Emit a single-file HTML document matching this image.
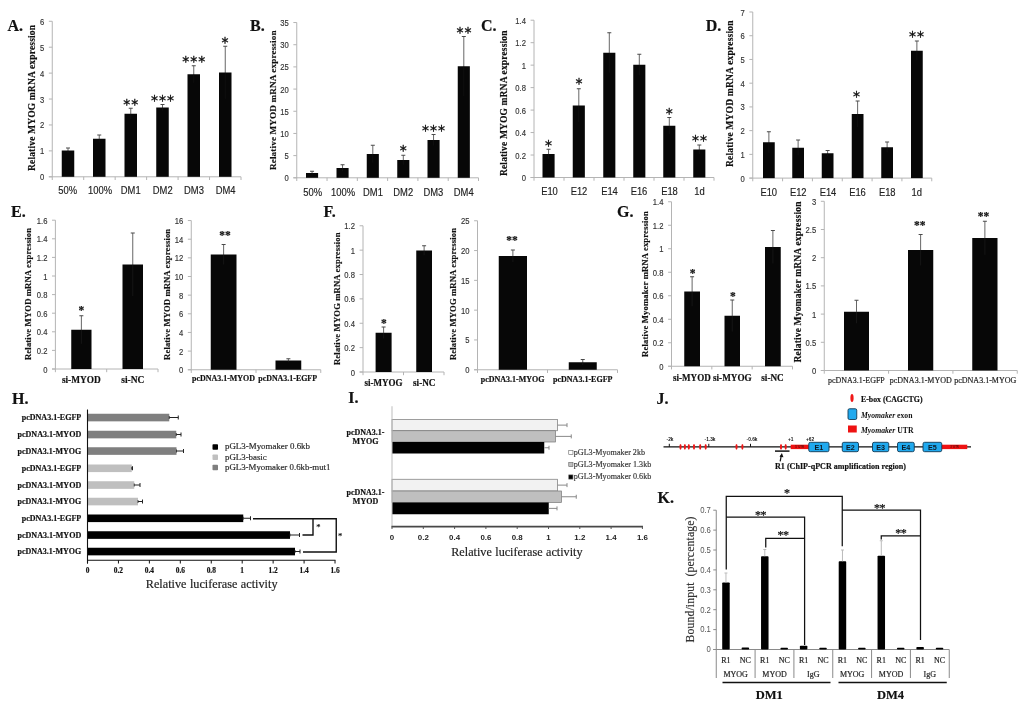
<!DOCTYPE html>
<html lang="en"><head><meta charset="utf-8"><title>Figure</title>
<style>
html,body{margin:0;padding:0;background:#fff;}
body{width:1024px;height:707px;overflow:hidden;}
svg{display:block;filter:blur(0.4px);}
</style></head><body>
<svg width="1024" height="707" viewBox="0 0 1024 707">
<rect x="0" y="0" width="1024" height="707" fill="#ffffff"/>
<text x="7.50" y="30.50" font-family="'Liberation Serif', serif" font-size="16" font-weight="bold" text-anchor="start" fill="#111" stroke="#111" stroke-width="0.18" >A.</text>
<line x1="52.25" y1="21.28" x2="52.25" y2="180.00" stroke="#b4b4b4" stroke-width="1" />
<line x1="48.85" y1="176.80" x2="52.25" y2="176.80" stroke="#b4b4b4" stroke-width="1" />
<text x="44.25" y="180.31" font-family="'Liberation Sans', sans-serif" font-size="9" font-weight="normal" text-anchor="end" fill="#333" stroke="#333" stroke-width="0.15" textLength="4.25" lengthAdjust="spacingAndGlyphs" >0</text>
<line x1="48.85" y1="150.88" x2="52.25" y2="150.88" stroke="#b4b4b4" stroke-width="1" />
<text x="44.25" y="154.39" font-family="'Liberation Sans', sans-serif" font-size="9" font-weight="normal" text-anchor="end" fill="#333" stroke="#333" stroke-width="0.15" textLength="4.25" lengthAdjust="spacingAndGlyphs" >1</text>
<line x1="48.85" y1="124.96" x2="52.25" y2="124.96" stroke="#b4b4b4" stroke-width="1" />
<text x="44.25" y="128.47" font-family="'Liberation Sans', sans-serif" font-size="9" font-weight="normal" text-anchor="end" fill="#333" stroke="#333" stroke-width="0.15" textLength="4.25" lengthAdjust="spacingAndGlyphs" >2</text>
<line x1="48.85" y1="99.04" x2="52.25" y2="99.04" stroke="#b4b4b4" stroke-width="1" />
<text x="44.25" y="102.55" font-family="'Liberation Sans', sans-serif" font-size="9" font-weight="normal" text-anchor="end" fill="#333" stroke="#333" stroke-width="0.15" textLength="4.25" lengthAdjust="spacingAndGlyphs" >3</text>
<line x1="48.85" y1="73.12" x2="52.25" y2="73.12" stroke="#b4b4b4" stroke-width="1" />
<text x="44.25" y="76.63" font-family="'Liberation Sans', sans-serif" font-size="9" font-weight="normal" text-anchor="end" fill="#333" stroke="#333" stroke-width="0.15" textLength="4.25" lengthAdjust="spacingAndGlyphs" >4</text>
<line x1="48.85" y1="47.20" x2="52.25" y2="47.20" stroke="#b4b4b4" stroke-width="1" />
<text x="44.25" y="50.71" font-family="'Liberation Sans', sans-serif" font-size="9" font-weight="normal" text-anchor="end" fill="#333" stroke="#333" stroke-width="0.15" textLength="4.25" lengthAdjust="spacingAndGlyphs" >5</text>
<line x1="48.85" y1="21.28" x2="52.25" y2="21.28" stroke="#b4b4b4" stroke-width="1" />
<text x="44.25" y="24.79" font-family="'Liberation Sans', sans-serif" font-size="9" font-weight="normal" text-anchor="end" fill="#333" stroke="#333" stroke-width="0.15" textLength="4.25" lengthAdjust="spacingAndGlyphs" >6</text>
<line x1="48.85" y1="176.80" x2="241.00" y2="176.80" stroke="#b4b4b4" stroke-width="1" />
<line x1="83.71" y1="176.80" x2="83.71" y2="180.00" stroke="#b4b4b4" stroke-width="1" />
<line x1="115.17" y1="176.80" x2="115.17" y2="180.00" stroke="#b4b4b4" stroke-width="1" />
<line x1="146.62" y1="176.80" x2="146.62" y2="180.00" stroke="#b4b4b4" stroke-width="1" />
<line x1="178.08" y1="176.80" x2="178.08" y2="180.00" stroke="#b4b4b4" stroke-width="1" />
<line x1="209.54" y1="176.80" x2="209.54" y2="180.00" stroke="#b4b4b4" stroke-width="1" />
<line x1="241.00" y1="176.80" x2="241.00" y2="180.00" stroke="#b4b4b4" stroke-width="1" />
<rect x="61.75" y="150.50" width="12.50" height="26.30" fill="#070707" />
<line x1="68.00" y1="148.00" x2="68.00" y2="150.50" stroke="#4a4a4a" stroke-width="0.85" />
<line x1="66.00" y1="148.00" x2="70.00" y2="148.00" stroke="#4a4a4a" stroke-width="1" />
<line x1="68.00" y1="150.50" x2="68.00" y2="153.00" stroke="#0f0f0f" stroke-width="1" />
<rect x="93.00" y="138.75" width="12.50" height="38.05" fill="#070707" />
<line x1="99.25" y1="135.00" x2="99.25" y2="138.75" stroke="#4a4a4a" stroke-width="0.85" />
<line x1="97.25" y1="135.00" x2="101.25" y2="135.00" stroke="#4a4a4a" stroke-width="1" />
<line x1="99.25" y1="138.75" x2="99.25" y2="142.50" stroke="#0f0f0f" stroke-width="1" />
<rect x="124.50" y="113.75" width="12.50" height="63.05" fill="#070707" />
<line x1="130.75" y1="108.25" x2="130.75" y2="113.75" stroke="#4a4a4a" stroke-width="0.85" />
<line x1="128.75" y1="108.25" x2="132.75" y2="108.25" stroke="#4a4a4a" stroke-width="1" />
<line x1="130.75" y1="113.75" x2="130.75" y2="119.25" stroke="#0f0f0f" stroke-width="1" />
<rect x="156.25" y="107.50" width="12.50" height="69.30" fill="#070707" />
<line x1="162.50" y1="104.50" x2="162.50" y2="107.50" stroke="#4a4a4a" stroke-width="0.85" />
<line x1="160.50" y1="104.50" x2="164.50" y2="104.50" stroke="#4a4a4a" stroke-width="1" />
<line x1="162.50" y1="107.50" x2="162.50" y2="110.50" stroke="#0f0f0f" stroke-width="1" />
<rect x="187.50" y="74.25" width="12.50" height="102.55" fill="#070707" />
<line x1="193.75" y1="65.75" x2="193.75" y2="74.25" stroke="#4a4a4a" stroke-width="0.85" />
<line x1="191.75" y1="65.75" x2="195.75" y2="65.75" stroke="#4a4a4a" stroke-width="1" />
<line x1="193.75" y1="74.25" x2="193.75" y2="82.75" stroke="#0f0f0f" stroke-width="1" />
<rect x="219.00" y="72.50" width="12.50" height="104.30" fill="#070707" />
<line x1="225.25" y1="46.25" x2="225.25" y2="72.50" stroke="#4a4a4a" stroke-width="0.85" />
<line x1="223.25" y1="46.25" x2="227.25" y2="46.25" stroke="#4a4a4a" stroke-width="1" />
<line x1="225.25" y1="72.50" x2="225.25" y2="98.75" stroke="#0f0f0f" stroke-width="1" />
<text x="67.75" y="193.75" font-family="'Liberation Sans', sans-serif" font-size="10" font-weight="normal" text-anchor="middle" fill="#222" stroke="#222" stroke-width="0.15" textLength="18.81" lengthAdjust="spacingAndGlyphs" >50%</text>
<text x="100.00" y="193.75" font-family="'Liberation Sans', sans-serif" font-size="10" font-weight="normal" text-anchor="middle" fill="#222" stroke="#222" stroke-width="0.15" textLength="24.04" lengthAdjust="spacingAndGlyphs" >100%</text>
<text x="130.75" y="193.75" font-family="'Liberation Sans', sans-serif" font-size="10" font-weight="normal" text-anchor="middle" fill="#222" stroke="#222" stroke-width="0.15" textLength="19.84" lengthAdjust="spacingAndGlyphs" >DM1</text>
<text x="162.75" y="193.75" font-family="'Liberation Sans', sans-serif" font-size="10" font-weight="normal" text-anchor="middle" fill="#222" stroke="#222" stroke-width="0.15" textLength="19.84" lengthAdjust="spacingAndGlyphs" >DM2</text>
<text x="194.00" y="193.75" font-family="'Liberation Sans', sans-serif" font-size="10" font-weight="normal" text-anchor="middle" fill="#222" stroke="#222" stroke-width="0.15" textLength="19.84" lengthAdjust="spacingAndGlyphs" >DM3</text>
<text x="225.60" y="193.75" font-family="'Liberation Sans', sans-serif" font-size="10" font-weight="normal" text-anchor="middle" fill="#222" stroke="#222" stroke-width="0.15" textLength="19.84" lengthAdjust="spacingAndGlyphs" >DM4</text>
<text transform="translate(32.90,98.00) rotate(-90)" x="0" y="2.19" font-family="'Liberation Serif', serif" font-size="9.5" font-weight="bold" text-anchor="middle" fill="#111" stroke="#111" stroke-width="0.15" textLength="146.00" lengthAdjust="spacing">Relative MYOG mRNA expression</text>
<text x="131.30" y="108.58" font-family="'DejaVu Sans', sans-serif" font-size="14" font-weight="normal" text-anchor="middle" fill="#0c0c0c" stroke="#0c0c0c" stroke-width="0.3" letter-spacing="1.1">**</text>
<text x="163.05" y="105.33" font-family="'DejaVu Sans', sans-serif" font-size="14" font-weight="normal" text-anchor="middle" fill="#0c0c0c" stroke="#0c0c0c" stroke-width="0.3" letter-spacing="1.1">***</text>
<text x="194.30" y="65.58" font-family="'DejaVu Sans', sans-serif" font-size="14" font-weight="normal" text-anchor="middle" fill="#0c0c0c" stroke="#0c0c0c" stroke-width="0.3" letter-spacing="1.1">***</text>
<text x="225.55" y="46.58" font-family="'DejaVu Sans', sans-serif" font-size="14" font-weight="normal" text-anchor="middle" fill="#0c0c0c" stroke="#0c0c0c" stroke-width="0.3" letter-spacing="1.1">*</text>
<text x="250.00" y="30.50" font-family="'Liberation Serif', serif" font-size="16" font-weight="bold" text-anchor="start" fill="#111" stroke="#111" stroke-width="0.18" >B.</text>
<line x1="296.75" y1="22.54" x2="296.75" y2="181.00" stroke="#b4b4b4" stroke-width="1" />
<line x1="293.35" y1="177.80" x2="296.75" y2="177.80" stroke="#b4b4b4" stroke-width="1" />
<text x="288.75" y="181.31" font-family="'Liberation Sans', sans-serif" font-size="9" font-weight="normal" text-anchor="end" fill="#333" stroke="#333" stroke-width="0.15" textLength="4.25" lengthAdjust="spacingAndGlyphs" >0</text>
<line x1="293.35" y1="155.62" x2="296.75" y2="155.62" stroke="#b4b4b4" stroke-width="1" />
<text x="288.75" y="159.13" font-family="'Liberation Sans', sans-serif" font-size="9" font-weight="normal" text-anchor="end" fill="#333" stroke="#333" stroke-width="0.15" textLength="4.25" lengthAdjust="spacingAndGlyphs" >5</text>
<line x1="293.35" y1="133.44" x2="296.75" y2="133.44" stroke="#b4b4b4" stroke-width="1" />
<text x="288.75" y="136.95" font-family="'Liberation Sans', sans-serif" font-size="9" font-weight="normal" text-anchor="end" fill="#333" stroke="#333" stroke-width="0.15" textLength="8.51" lengthAdjust="spacingAndGlyphs" >10</text>
<line x1="293.35" y1="111.26" x2="296.75" y2="111.26" stroke="#b4b4b4" stroke-width="1" />
<text x="288.75" y="114.77" font-family="'Liberation Sans', sans-serif" font-size="9" font-weight="normal" text-anchor="end" fill="#333" stroke="#333" stroke-width="0.15" textLength="8.51" lengthAdjust="spacingAndGlyphs" >15</text>
<line x1="293.35" y1="89.08" x2="296.75" y2="89.08" stroke="#b4b4b4" stroke-width="1" />
<text x="288.75" y="92.59" font-family="'Liberation Sans', sans-serif" font-size="9" font-weight="normal" text-anchor="end" fill="#333" stroke="#333" stroke-width="0.15" textLength="8.51" lengthAdjust="spacingAndGlyphs" >20</text>
<line x1="293.35" y1="66.90" x2="296.75" y2="66.90" stroke="#b4b4b4" stroke-width="1" />
<text x="288.75" y="70.41" font-family="'Liberation Sans', sans-serif" font-size="9" font-weight="normal" text-anchor="end" fill="#333" stroke="#333" stroke-width="0.15" textLength="8.51" lengthAdjust="spacingAndGlyphs" >25</text>
<line x1="293.35" y1="44.72" x2="296.75" y2="44.72" stroke="#b4b4b4" stroke-width="1" />
<text x="288.75" y="48.23" font-family="'Liberation Sans', sans-serif" font-size="9" font-weight="normal" text-anchor="end" fill="#333" stroke="#333" stroke-width="0.15" textLength="8.51" lengthAdjust="spacingAndGlyphs" >30</text>
<line x1="293.35" y1="22.54" x2="296.75" y2="22.54" stroke="#b4b4b4" stroke-width="1" />
<text x="288.75" y="26.05" font-family="'Liberation Sans', sans-serif" font-size="9" font-weight="normal" text-anchor="end" fill="#333" stroke="#333" stroke-width="0.15" textLength="8.51" lengthAdjust="spacingAndGlyphs" >35</text>
<line x1="293.35" y1="177.80" x2="478.50" y2="177.80" stroke="#b4b4b4" stroke-width="1" />
<line x1="327.04" y1="177.80" x2="327.04" y2="181.00" stroke="#b4b4b4" stroke-width="1" />
<line x1="357.33" y1="177.80" x2="357.33" y2="181.00" stroke="#b4b4b4" stroke-width="1" />
<line x1="387.62" y1="177.80" x2="387.62" y2="181.00" stroke="#b4b4b4" stroke-width="1" />
<line x1="417.92" y1="177.80" x2="417.92" y2="181.00" stroke="#b4b4b4" stroke-width="1" />
<line x1="448.21" y1="177.80" x2="448.21" y2="181.00" stroke="#b4b4b4" stroke-width="1" />
<line x1="478.50" y1="177.80" x2="478.50" y2="181.00" stroke="#b4b4b4" stroke-width="1" />
<rect x="306.00" y="173.00" width="12.10" height="4.80" fill="#070707" />
<line x1="312.05" y1="171.25" x2="312.05" y2="173.00" stroke="#4a4a4a" stroke-width="0.85" />
<line x1="310.05" y1="171.25" x2="314.05" y2="171.25" stroke="#4a4a4a" stroke-width="1" />
<line x1="312.05" y1="173.00" x2="312.05" y2="174.75" stroke="#0f0f0f" stroke-width="1" />
<rect x="336.50" y="168.00" width="12.10" height="9.80" fill="#070707" />
<line x1="342.55" y1="164.75" x2="342.55" y2="168.00" stroke="#4a4a4a" stroke-width="0.85" />
<line x1="340.55" y1="164.75" x2="344.55" y2="164.75" stroke="#4a4a4a" stroke-width="1" />
<line x1="342.55" y1="168.00" x2="342.55" y2="171.25" stroke="#0f0f0f" stroke-width="1" />
<rect x="366.75" y="154.00" width="12.10" height="23.80" fill="#070707" />
<line x1="372.80" y1="145.25" x2="372.80" y2="154.00" stroke="#4a4a4a" stroke-width="0.85" />
<line x1="370.80" y1="145.25" x2="374.80" y2="145.25" stroke="#4a4a4a" stroke-width="1" />
<line x1="372.80" y1="154.00" x2="372.80" y2="162.75" stroke="#0f0f0f" stroke-width="1" />
<rect x="397.25" y="160.00" width="12.10" height="17.80" fill="#070707" />
<line x1="403.30" y1="155.25" x2="403.30" y2="160.00" stroke="#4a4a4a" stroke-width="0.85" />
<line x1="401.30" y1="155.25" x2="405.30" y2="155.25" stroke="#4a4a4a" stroke-width="1" />
<line x1="403.30" y1="160.00" x2="403.30" y2="164.75" stroke="#0f0f0f" stroke-width="1" />
<rect x="427.50" y="140.00" width="12.10" height="37.80" fill="#070707" />
<line x1="433.55" y1="134.50" x2="433.55" y2="140.00" stroke="#4a4a4a" stroke-width="0.85" />
<line x1="431.55" y1="134.50" x2="435.55" y2="134.50" stroke="#4a4a4a" stroke-width="1" />
<line x1="433.55" y1="140.00" x2="433.55" y2="145.50" stroke="#0f0f0f" stroke-width="1" />
<rect x="457.75" y="66.25" width="12.10" height="111.55" fill="#070707" />
<line x1="463.80" y1="36.50" x2="463.80" y2="66.25" stroke="#4a4a4a" stroke-width="0.85" />
<line x1="461.80" y1="36.50" x2="465.80" y2="36.50" stroke="#4a4a4a" stroke-width="1" />
<line x1="463.80" y1="66.25" x2="463.80" y2="96.00" stroke="#0f0f0f" stroke-width="1" />
<text x="312.75" y="195.50" font-family="'Liberation Sans', sans-serif" font-size="10" font-weight="normal" text-anchor="middle" fill="#222" stroke="#222" stroke-width="0.15" textLength="18.81" lengthAdjust="spacingAndGlyphs" >50%</text>
<text x="343.00" y="195.50" font-family="'Liberation Sans', sans-serif" font-size="10" font-weight="normal" text-anchor="middle" fill="#222" stroke="#222" stroke-width="0.15" textLength="24.04" lengthAdjust="spacingAndGlyphs" >100%</text>
<text x="373.00" y="195.50" font-family="'Liberation Sans', sans-serif" font-size="10" font-weight="normal" text-anchor="middle" fill="#222" stroke="#222" stroke-width="0.15" textLength="19.84" lengthAdjust="spacingAndGlyphs" >DM1</text>
<text x="403.25" y="195.50" font-family="'Liberation Sans', sans-serif" font-size="10" font-weight="normal" text-anchor="middle" fill="#222" stroke="#222" stroke-width="0.15" textLength="19.84" lengthAdjust="spacingAndGlyphs" >DM2</text>
<text x="433.40" y="195.50" font-family="'Liberation Sans', sans-serif" font-size="10" font-weight="normal" text-anchor="middle" fill="#222" stroke="#222" stroke-width="0.15" textLength="19.84" lengthAdjust="spacingAndGlyphs" >DM3</text>
<text x="463.75" y="195.50" font-family="'Liberation Sans', sans-serif" font-size="10" font-weight="normal" text-anchor="middle" fill="#222" stroke="#222" stroke-width="0.15" textLength="19.84" lengthAdjust="spacingAndGlyphs" >DM4</text>
<text transform="translate(273.90,100.25) rotate(-90)" x="0" y="2.10" font-family="'Liberation Serif', serif" font-size="9.12" font-weight="bold" text-anchor="middle" fill="#111" stroke="#111" stroke-width="0.15" textLength="139.50" lengthAdjust="spacing">Relative MYOD mRNA expression</text>
<text x="403.80" y="155.33" font-family="'DejaVu Sans', sans-serif" font-size="14" font-weight="normal" text-anchor="middle" fill="#0c0c0c" stroke="#0c0c0c" stroke-width="0.3" letter-spacing="1.1">*</text>
<text x="434.05" y="135.33" font-family="'DejaVu Sans', sans-serif" font-size="14" font-weight="normal" text-anchor="middle" fill="#0c0c0c" stroke="#0c0c0c" stroke-width="0.3" letter-spacing="1.1">***</text>
<text x="464.55" y="37.08" font-family="'DejaVu Sans', sans-serif" font-size="14" font-weight="normal" text-anchor="middle" fill="#0c0c0c" stroke="#0c0c0c" stroke-width="0.3" letter-spacing="1.1">**</text>
<text x="481.00" y="30.50" font-family="'Liberation Serif', serif" font-size="16" font-weight="bold" text-anchor="start" fill="#111" stroke="#111" stroke-width="0.18" >C.</text>
<line x1="534.00" y1="20.21" x2="534.00" y2="180.70" stroke="#b4b4b4" stroke-width="1" />
<line x1="530.60" y1="177.50" x2="534.00" y2="177.50" stroke="#b4b4b4" stroke-width="1" />
<text x="526.00" y="181.01" font-family="'Liberation Sans', sans-serif" font-size="9" font-weight="normal" text-anchor="end" fill="#333" stroke="#333" stroke-width="0.15" textLength="4.25" lengthAdjust="spacingAndGlyphs" >0</text>
<line x1="530.60" y1="155.03" x2="534.00" y2="155.03" stroke="#b4b4b4" stroke-width="1" />
<text x="526.00" y="158.54" font-family="'Liberation Sans', sans-serif" font-size="9" font-weight="normal" text-anchor="end" fill="#333" stroke="#333" stroke-width="0.15" textLength="10.63" lengthAdjust="spacingAndGlyphs" >0.2</text>
<line x1="530.60" y1="132.56" x2="534.00" y2="132.56" stroke="#b4b4b4" stroke-width="1" />
<text x="526.00" y="136.07" font-family="'Liberation Sans', sans-serif" font-size="9" font-weight="normal" text-anchor="end" fill="#333" stroke="#333" stroke-width="0.15" textLength="10.63" lengthAdjust="spacingAndGlyphs" >0.4</text>
<line x1="530.60" y1="110.09" x2="534.00" y2="110.09" stroke="#b4b4b4" stroke-width="1" />
<text x="526.00" y="113.60" font-family="'Liberation Sans', sans-serif" font-size="9" font-weight="normal" text-anchor="end" fill="#333" stroke="#333" stroke-width="0.15" textLength="10.63" lengthAdjust="spacingAndGlyphs" >0.6</text>
<line x1="530.60" y1="87.62" x2="534.00" y2="87.62" stroke="#b4b4b4" stroke-width="1" />
<text x="526.00" y="91.13" font-family="'Liberation Sans', sans-serif" font-size="9" font-weight="normal" text-anchor="end" fill="#333" stroke="#333" stroke-width="0.15" textLength="10.63" lengthAdjust="spacingAndGlyphs" >0.8</text>
<line x1="530.60" y1="65.15" x2="534.00" y2="65.15" stroke="#b4b4b4" stroke-width="1" />
<text x="526.00" y="68.66" font-family="'Liberation Sans', sans-serif" font-size="9" font-weight="normal" text-anchor="end" fill="#333" stroke="#333" stroke-width="0.15" textLength="4.25" lengthAdjust="spacingAndGlyphs" >1</text>
<line x1="530.60" y1="42.68" x2="534.00" y2="42.68" stroke="#b4b4b4" stroke-width="1" />
<text x="526.00" y="46.19" font-family="'Liberation Sans', sans-serif" font-size="9" font-weight="normal" text-anchor="end" fill="#333" stroke="#333" stroke-width="0.15" textLength="10.63" lengthAdjust="spacingAndGlyphs" >1.2</text>
<line x1="530.60" y1="20.21" x2="534.00" y2="20.21" stroke="#b4b4b4" stroke-width="1" />
<text x="526.00" y="23.72" font-family="'Liberation Sans', sans-serif" font-size="9" font-weight="normal" text-anchor="end" fill="#333" stroke="#333" stroke-width="0.15" textLength="10.63" lengthAdjust="spacingAndGlyphs" >1.4</text>
<line x1="530.60" y1="177.50" x2="714.00" y2="177.50" stroke="#b4b4b4" stroke-width="1" />
<line x1="564.00" y1="177.50" x2="564.00" y2="180.70" stroke="#b4b4b4" stroke-width="1" />
<line x1="594.00" y1="177.50" x2="594.00" y2="180.70" stroke="#b4b4b4" stroke-width="1" />
<line x1="624.00" y1="177.50" x2="624.00" y2="180.70" stroke="#b4b4b4" stroke-width="1" />
<line x1="654.00" y1="177.50" x2="654.00" y2="180.70" stroke="#b4b4b4" stroke-width="1" />
<line x1="684.00" y1="177.50" x2="684.00" y2="180.70" stroke="#b4b4b4" stroke-width="1" />
<line x1="714.00" y1="177.50" x2="714.00" y2="180.70" stroke="#b4b4b4" stroke-width="1" />
<rect x="542.50" y="154.00" width="12.10" height="23.50" fill="#070707" />
<line x1="548.55" y1="149.25" x2="548.55" y2="154.00" stroke="#4a4a4a" stroke-width="0.85" />
<line x1="546.55" y1="149.25" x2="550.55" y2="149.25" stroke="#4a4a4a" stroke-width="1" />
<line x1="548.55" y1="154.00" x2="548.55" y2="158.75" stroke="#0f0f0f" stroke-width="1" />
<rect x="572.75" y="105.50" width="12.10" height="72.00" fill="#070707" />
<line x1="578.80" y1="88.75" x2="578.80" y2="105.50" stroke="#4a4a4a" stroke-width="0.85" />
<line x1="576.80" y1="88.75" x2="580.80" y2="88.75" stroke="#4a4a4a" stroke-width="1" />
<line x1="578.80" y1="105.50" x2="578.80" y2="122.25" stroke="#0f0f0f" stroke-width="1" />
<rect x="603.25" y="52.75" width="12.10" height="124.75" fill="#070707" />
<line x1="609.30" y1="32.75" x2="609.30" y2="52.75" stroke="#4a4a4a" stroke-width="0.85" />
<line x1="607.30" y1="32.75" x2="611.30" y2="32.75" stroke="#4a4a4a" stroke-width="1" />
<line x1="609.30" y1="52.75" x2="609.30" y2="72.75" stroke="#0f0f0f" stroke-width="1" />
<rect x="633.25" y="64.75" width="12.10" height="112.75" fill="#070707" />
<line x1="639.30" y1="54.25" x2="639.30" y2="64.75" stroke="#4a4a4a" stroke-width="0.85" />
<line x1="637.30" y1="54.25" x2="641.30" y2="54.25" stroke="#4a4a4a" stroke-width="1" />
<line x1="639.30" y1="64.75" x2="639.30" y2="75.25" stroke="#0f0f0f" stroke-width="1" />
<rect x="663.25" y="125.75" width="12.10" height="51.75" fill="#070707" />
<line x1="669.30" y1="117.50" x2="669.30" y2="125.75" stroke="#4a4a4a" stroke-width="0.85" />
<line x1="667.30" y1="117.50" x2="671.30" y2="117.50" stroke="#4a4a4a" stroke-width="1" />
<line x1="669.30" y1="125.75" x2="669.30" y2="134.00" stroke="#0f0f0f" stroke-width="1" />
<rect x="693.25" y="149.50" width="12.10" height="28.00" fill="#070707" />
<line x1="699.30" y1="145.00" x2="699.30" y2="149.50" stroke="#4a4a4a" stroke-width="0.85" />
<line x1="697.30" y1="145.00" x2="701.30" y2="145.00" stroke="#4a4a4a" stroke-width="1" />
<line x1="699.30" y1="149.50" x2="699.30" y2="154.00" stroke="#0f0f0f" stroke-width="1" />
<text x="549.50" y="195.00" font-family="'Liberation Sans', sans-serif" font-size="10" font-weight="normal" text-anchor="middle" fill="#222" stroke="#222" stroke-width="0.15" textLength="16.72" lengthAdjust="spacingAndGlyphs" >E10</text>
<text x="579.00" y="195.00" font-family="'Liberation Sans', sans-serif" font-size="10" font-weight="normal" text-anchor="middle" fill="#222" stroke="#222" stroke-width="0.15" textLength="16.72" lengthAdjust="spacingAndGlyphs" >E12</text>
<text x="609.50" y="195.00" font-family="'Liberation Sans', sans-serif" font-size="10" font-weight="normal" text-anchor="middle" fill="#222" stroke="#222" stroke-width="0.15" textLength="16.72" lengthAdjust="spacingAndGlyphs" >E14</text>
<text x="639.00" y="195.00" font-family="'Liberation Sans', sans-serif" font-size="10" font-weight="normal" text-anchor="middle" fill="#222" stroke="#222" stroke-width="0.15" textLength="16.72" lengthAdjust="spacingAndGlyphs" >E16</text>
<text x="669.50" y="195.00" font-family="'Liberation Sans', sans-serif" font-size="10" font-weight="normal" text-anchor="middle" fill="#222" stroke="#222" stroke-width="0.15" textLength="16.72" lengthAdjust="spacingAndGlyphs" >E18</text>
<text x="699.50" y="195.00" font-family="'Liberation Sans', sans-serif" font-size="10" font-weight="normal" text-anchor="middle" fill="#222" stroke="#222" stroke-width="0.15" textLength="10.45" lengthAdjust="spacingAndGlyphs" >1d</text>
<text transform="translate(504.40,103.25) rotate(-90)" x="0" y="2.19" font-family="'Liberation Serif', serif" font-size="9.5" font-weight="bold" text-anchor="middle" fill="#111" stroke="#111" stroke-width="0.15" textLength="145.50" lengthAdjust="spacing">Relative MYOG mRNA expression</text>
<text x="549.05" y="149.58" font-family="'DejaVu Sans', sans-serif" font-size="14" font-weight="normal" text-anchor="middle" fill="#0c0c0c" stroke="#0c0c0c" stroke-width="0.3" letter-spacing="1.1">*</text>
<text x="579.55" y="88.33" font-family="'DejaVu Sans', sans-serif" font-size="14" font-weight="normal" text-anchor="middle" fill="#0c0c0c" stroke="#0c0c0c" stroke-width="0.3" letter-spacing="1.1">*</text>
<text x="669.80" y="117.83" font-family="'DejaVu Sans', sans-serif" font-size="14" font-weight="normal" text-anchor="middle" fill="#0c0c0c" stroke="#0c0c0c" stroke-width="0.3" letter-spacing="1.1">*</text>
<text x="700.05" y="145.33" font-family="'DejaVu Sans', sans-serif" font-size="14" font-weight="normal" text-anchor="middle" fill="#0c0c0c" stroke="#0c0c0c" stroke-width="0.3" letter-spacing="1.1">**</text>
<text x="705.75" y="30.50" font-family="'Liberation Serif', serif" font-size="16" font-weight="bold" text-anchor="start" fill="#111" stroke="#111" stroke-width="0.18" >D.</text>
<line x1="752.75" y1="11.99" x2="752.75" y2="181.30" stroke="#b4b4b4" stroke-width="1" />
<line x1="749.35" y1="178.10" x2="752.75" y2="178.10" stroke="#b4b4b4" stroke-width="1" />
<text x="744.75" y="181.61" font-family="'Liberation Sans', sans-serif" font-size="9" font-weight="normal" text-anchor="end" fill="#333" stroke="#333" stroke-width="0.15" textLength="4.25" lengthAdjust="spacingAndGlyphs" >0</text>
<line x1="749.35" y1="154.37" x2="752.75" y2="154.37" stroke="#b4b4b4" stroke-width="1" />
<text x="744.75" y="157.88" font-family="'Liberation Sans', sans-serif" font-size="9" font-weight="normal" text-anchor="end" fill="#333" stroke="#333" stroke-width="0.15" textLength="4.25" lengthAdjust="spacingAndGlyphs" >1</text>
<line x1="749.35" y1="130.64" x2="752.75" y2="130.64" stroke="#b4b4b4" stroke-width="1" />
<text x="744.75" y="134.15" font-family="'Liberation Sans', sans-serif" font-size="9" font-weight="normal" text-anchor="end" fill="#333" stroke="#333" stroke-width="0.15" textLength="4.25" lengthAdjust="spacingAndGlyphs" >2</text>
<line x1="749.35" y1="106.91" x2="752.75" y2="106.91" stroke="#b4b4b4" stroke-width="1" />
<text x="744.75" y="110.42" font-family="'Liberation Sans', sans-serif" font-size="9" font-weight="normal" text-anchor="end" fill="#333" stroke="#333" stroke-width="0.15" textLength="4.25" lengthAdjust="spacingAndGlyphs" >3</text>
<line x1="749.35" y1="83.18" x2="752.75" y2="83.18" stroke="#b4b4b4" stroke-width="1" />
<text x="744.75" y="86.69" font-family="'Liberation Sans', sans-serif" font-size="9" font-weight="normal" text-anchor="end" fill="#333" stroke="#333" stroke-width="0.15" textLength="4.25" lengthAdjust="spacingAndGlyphs" >4</text>
<line x1="749.35" y1="59.45" x2="752.75" y2="59.45" stroke="#b4b4b4" stroke-width="1" />
<text x="744.75" y="62.96" font-family="'Liberation Sans', sans-serif" font-size="9" font-weight="normal" text-anchor="end" fill="#333" stroke="#333" stroke-width="0.15" textLength="4.25" lengthAdjust="spacingAndGlyphs" >5</text>
<line x1="749.35" y1="35.72" x2="752.75" y2="35.72" stroke="#b4b4b4" stroke-width="1" />
<text x="744.75" y="39.23" font-family="'Liberation Sans', sans-serif" font-size="9" font-weight="normal" text-anchor="end" fill="#333" stroke="#333" stroke-width="0.15" textLength="4.25" lengthAdjust="spacingAndGlyphs" >6</text>
<line x1="749.35" y1="11.99" x2="752.75" y2="11.99" stroke="#b4b4b4" stroke-width="1" />
<text x="744.75" y="15.50" font-family="'Liberation Sans', sans-serif" font-size="9" font-weight="normal" text-anchor="end" fill="#333" stroke="#333" stroke-width="0.15" textLength="4.25" lengthAdjust="spacingAndGlyphs" >7</text>
<line x1="749.35" y1="178.10" x2="931.75" y2="178.10" stroke="#b4b4b4" stroke-width="1" />
<line x1="782.58" y1="178.10" x2="782.58" y2="181.30" stroke="#b4b4b4" stroke-width="1" />
<line x1="812.42" y1="178.10" x2="812.42" y2="181.30" stroke="#b4b4b4" stroke-width="1" />
<line x1="842.25" y1="178.10" x2="842.25" y2="181.30" stroke="#b4b4b4" stroke-width="1" />
<line x1="872.08" y1="178.10" x2="872.08" y2="181.30" stroke="#b4b4b4" stroke-width="1" />
<line x1="901.92" y1="178.10" x2="901.92" y2="181.30" stroke="#b4b4b4" stroke-width="1" />
<line x1="931.75" y1="178.10" x2="931.75" y2="181.30" stroke="#b4b4b4" stroke-width="1" />
<rect x="763.00" y="142.25" width="11.75" height="35.85" fill="#070707" />
<line x1="768.88" y1="131.75" x2="768.88" y2="142.25" stroke="#4a4a4a" stroke-width="0.85" />
<line x1="766.88" y1="131.75" x2="770.88" y2="131.75" stroke="#4a4a4a" stroke-width="1" />
<line x1="768.88" y1="142.25" x2="768.88" y2="152.75" stroke="#0f0f0f" stroke-width="1" />
<rect x="792.25" y="147.75" width="11.75" height="30.35" fill="#070707" />
<line x1="798.12" y1="140.00" x2="798.12" y2="147.75" stroke="#4a4a4a" stroke-width="0.85" />
<line x1="796.12" y1="140.00" x2="800.12" y2="140.00" stroke="#4a4a4a" stroke-width="1" />
<line x1="798.12" y1="147.75" x2="798.12" y2="155.50" stroke="#0f0f0f" stroke-width="1" />
<rect x="821.75" y="153.25" width="11.75" height="24.85" fill="#070707" />
<line x1="827.62" y1="150.50" x2="827.62" y2="153.25" stroke="#4a4a4a" stroke-width="0.85" />
<line x1="825.62" y1="150.50" x2="829.62" y2="150.50" stroke="#4a4a4a" stroke-width="1" />
<line x1="827.62" y1="153.25" x2="827.62" y2="156.00" stroke="#0f0f0f" stroke-width="1" />
<rect x="851.75" y="114.00" width="11.75" height="64.10" fill="#070707" />
<line x1="857.62" y1="101.00" x2="857.62" y2="114.00" stroke="#4a4a4a" stroke-width="0.85" />
<line x1="855.62" y1="101.00" x2="859.62" y2="101.00" stroke="#4a4a4a" stroke-width="1" />
<line x1="857.62" y1="114.00" x2="857.62" y2="127.00" stroke="#0f0f0f" stroke-width="1" />
<rect x="881.25" y="147.25" width="11.75" height="30.85" fill="#070707" />
<line x1="887.12" y1="142.00" x2="887.12" y2="147.25" stroke="#4a4a4a" stroke-width="0.85" />
<line x1="885.12" y1="142.00" x2="889.12" y2="142.00" stroke="#4a4a4a" stroke-width="1" />
<line x1="887.12" y1="147.25" x2="887.12" y2="152.50" stroke="#0f0f0f" stroke-width="1" />
<rect x="911.00" y="50.75" width="11.75" height="127.35" fill="#070707" />
<line x1="916.88" y1="41.00" x2="916.88" y2="50.75" stroke="#4a4a4a" stroke-width="0.85" />
<line x1="914.88" y1="41.00" x2="918.88" y2="41.00" stroke="#4a4a4a" stroke-width="1" />
<line x1="916.88" y1="50.75" x2="916.88" y2="60.50" stroke="#0f0f0f" stroke-width="1" />
<text x="768.75" y="195.50" font-family="'Liberation Sans', sans-serif" font-size="10" font-weight="normal" text-anchor="middle" fill="#222" stroke="#222" stroke-width="0.15" textLength="16.72" lengthAdjust="spacingAndGlyphs" >E10</text>
<text x="798.25" y="195.50" font-family="'Liberation Sans', sans-serif" font-size="10" font-weight="normal" text-anchor="middle" fill="#222" stroke="#222" stroke-width="0.15" textLength="16.72" lengthAdjust="spacingAndGlyphs" >E12</text>
<text x="828.00" y="195.50" font-family="'Liberation Sans', sans-serif" font-size="10" font-weight="normal" text-anchor="middle" fill="#222" stroke="#222" stroke-width="0.15" textLength="16.72" lengthAdjust="spacingAndGlyphs" >E14</text>
<text x="857.50" y="195.50" font-family="'Liberation Sans', sans-serif" font-size="10" font-weight="normal" text-anchor="middle" fill="#222" stroke="#222" stroke-width="0.15" textLength="16.72" lengthAdjust="spacingAndGlyphs" >E16</text>
<text x="887.25" y="195.50" font-family="'Liberation Sans', sans-serif" font-size="10" font-weight="normal" text-anchor="middle" fill="#222" stroke="#222" stroke-width="0.15" textLength="16.72" lengthAdjust="spacingAndGlyphs" >E18</text>
<text x="916.75" y="195.50" font-family="'Liberation Sans', sans-serif" font-size="10" font-weight="normal" text-anchor="middle" fill="#222" stroke="#222" stroke-width="0.15" textLength="10.45" lengthAdjust="spacingAndGlyphs" >1d</text>
<text transform="translate(731.15,93.75) rotate(-90)" x="0" y="2.19" font-family="'Liberation Serif', serif" font-size="9.5" font-weight="bold" text-anchor="middle" fill="#111" stroke="#111" stroke-width="0.15" textLength="146.50" lengthAdjust="spacing">Relative MYOD mRNA expression</text>
<text x="857.05" y="101.08" font-family="'DejaVu Sans', sans-serif" font-size="14" font-weight="normal" text-anchor="middle" fill="#0c0c0c" stroke="#0c0c0c" stroke-width="0.3" letter-spacing="1.1">*</text>
<text x="917.05" y="41.08" font-family="'DejaVu Sans', sans-serif" font-size="14" font-weight="normal" text-anchor="middle" fill="#0c0c0c" stroke="#0c0c0c" stroke-width="0.3" letter-spacing="1.1">**</text>
<text x="11.00" y="216.50" font-family="'Liberation Serif', serif" font-size="16" font-weight="bold" text-anchor="start" fill="#111" stroke="#111" stroke-width="0.18" >E.</text>
<line x1="55.40" y1="220.20" x2="55.40" y2="372.20" stroke="#b4b4b4" stroke-width="1" />
<line x1="52.00" y1="369.00" x2="55.40" y2="369.00" stroke="#b4b4b4" stroke-width="1" />
<text x="47.40" y="372.51" font-family="'Liberation Sans', sans-serif" font-size="9" font-weight="normal" text-anchor="end" fill="#333" stroke="#333" stroke-width="0.15" textLength="4.25" lengthAdjust="spacingAndGlyphs" >0</text>
<line x1="52.00" y1="350.40" x2="55.40" y2="350.40" stroke="#b4b4b4" stroke-width="1" />
<text x="47.40" y="353.91" font-family="'Liberation Sans', sans-serif" font-size="9" font-weight="normal" text-anchor="end" fill="#333" stroke="#333" stroke-width="0.15" textLength="10.63" lengthAdjust="spacingAndGlyphs" >0.2</text>
<line x1="52.00" y1="331.80" x2="55.40" y2="331.80" stroke="#b4b4b4" stroke-width="1" />
<text x="47.40" y="335.31" font-family="'Liberation Sans', sans-serif" font-size="9" font-weight="normal" text-anchor="end" fill="#333" stroke="#333" stroke-width="0.15" textLength="10.63" lengthAdjust="spacingAndGlyphs" >0.4</text>
<line x1="52.00" y1="313.20" x2="55.40" y2="313.20" stroke="#b4b4b4" stroke-width="1" />
<text x="47.40" y="316.71" font-family="'Liberation Sans', sans-serif" font-size="9" font-weight="normal" text-anchor="end" fill="#333" stroke="#333" stroke-width="0.15" textLength="10.63" lengthAdjust="spacingAndGlyphs" >0.6</text>
<line x1="52.00" y1="294.60" x2="55.40" y2="294.60" stroke="#b4b4b4" stroke-width="1" />
<text x="47.40" y="298.11" font-family="'Liberation Sans', sans-serif" font-size="9" font-weight="normal" text-anchor="end" fill="#333" stroke="#333" stroke-width="0.15" textLength="10.63" lengthAdjust="spacingAndGlyphs" >0.8</text>
<line x1="52.00" y1="276.00" x2="55.40" y2="276.00" stroke="#b4b4b4" stroke-width="1" />
<text x="47.40" y="279.51" font-family="'Liberation Sans', sans-serif" font-size="9" font-weight="normal" text-anchor="end" fill="#333" stroke="#333" stroke-width="0.15" textLength="4.25" lengthAdjust="spacingAndGlyphs" >1</text>
<line x1="52.00" y1="257.40" x2="55.40" y2="257.40" stroke="#b4b4b4" stroke-width="1" />
<text x="47.40" y="260.91" font-family="'Liberation Sans', sans-serif" font-size="9" font-weight="normal" text-anchor="end" fill="#333" stroke="#333" stroke-width="0.15" textLength="10.63" lengthAdjust="spacingAndGlyphs" >1.2</text>
<line x1="52.00" y1="238.80" x2="55.40" y2="238.80" stroke="#b4b4b4" stroke-width="1" />
<text x="47.40" y="242.31" font-family="'Liberation Sans', sans-serif" font-size="9" font-weight="normal" text-anchor="end" fill="#333" stroke="#333" stroke-width="0.15" textLength="10.63" lengthAdjust="spacingAndGlyphs" >1.4</text>
<line x1="52.00" y1="220.20" x2="55.40" y2="220.20" stroke="#b4b4b4" stroke-width="1" />
<text x="47.40" y="223.71" font-family="'Liberation Sans', sans-serif" font-size="9" font-weight="normal" text-anchor="end" fill="#333" stroke="#333" stroke-width="0.15" textLength="10.63" lengthAdjust="spacingAndGlyphs" >1.6</text>
<line x1="52.00" y1="369.00" x2="158.00" y2="369.00" stroke="#b4b4b4" stroke-width="1" />
<line x1="106.70" y1="369.00" x2="106.70" y2="372.20" stroke="#b4b4b4" stroke-width="1" />
<line x1="158.00" y1="369.00" x2="158.00" y2="372.20" stroke="#b4b4b4" stroke-width="1" />
<rect x="71.25" y="329.75" width="20.25" height="39.25" fill="#070707" />
<line x1="81.38" y1="315.75" x2="81.38" y2="329.75" stroke="#4a4a4a" stroke-width="0.85" />
<line x1="79.38" y1="315.75" x2="83.38" y2="315.75" stroke="#4a4a4a" stroke-width="1" />
<line x1="81.38" y1="329.75" x2="81.38" y2="343.75" stroke="#161616" stroke-width="1" />
<rect x="122.50" y="264.50" width="20.50" height="104.50" fill="#070707" />
<line x1="132.75" y1="233.00" x2="132.75" y2="264.50" stroke="#4a4a4a" stroke-width="0.85" />
<line x1="130.75" y1="233.00" x2="134.75" y2="233.00" stroke="#4a4a4a" stroke-width="1" />
<line x1="132.75" y1="264.50" x2="132.75" y2="296.00" stroke="#161616" stroke-width="1" />
<text x="81.25" y="383.00" font-family="'Liberation Serif', serif" font-size="9.4" font-weight="bold" text-anchor="middle" fill="#111" stroke="#111" stroke-width="0.18" textLength="38.75" lengthAdjust="spacingAndGlyphs" >si-MYOD</text>
<text x="132.75" y="383.00" font-family="'Liberation Serif', serif" font-size="9.4" font-weight="bold" text-anchor="middle" fill="#111" stroke="#111" stroke-width="0.18" textLength="23.00" lengthAdjust="spacingAndGlyphs" >si-NC</text>
<text transform="translate(29.15,294.00) rotate(-90)" x="0" y="1.99" font-family="'Liberation Serif', serif" font-size="8.64" font-weight="bold" text-anchor="middle" fill="#111" stroke="#111" stroke-width="0.15" textLength="132.00" lengthAdjust="spacing">Relative MYOD mRNA expression</text>
<text x="81.25" y="313.65" font-family="'Liberation Serif', serif" font-size="11.5" font-weight="bold" text-anchor="middle" fill="#111" stroke="#111" stroke-width="0.18" >*</text>
<line x1="191.25" y1="220.55" x2="191.25" y2="372.95" stroke="#b4b4b4" stroke-width="1" />
<line x1="187.85" y1="369.75" x2="191.25" y2="369.75" stroke="#b4b4b4" stroke-width="1" />
<text x="183.25" y="373.26" font-family="'Liberation Sans', sans-serif" font-size="9" font-weight="normal" text-anchor="end" fill="#333" stroke="#333" stroke-width="0.15" textLength="4.25" lengthAdjust="spacingAndGlyphs" >0</text>
<line x1="187.85" y1="351.10" x2="191.25" y2="351.10" stroke="#b4b4b4" stroke-width="1" />
<text x="183.25" y="354.61" font-family="'Liberation Sans', sans-serif" font-size="9" font-weight="normal" text-anchor="end" fill="#333" stroke="#333" stroke-width="0.15" textLength="4.25" lengthAdjust="spacingAndGlyphs" >2</text>
<line x1="187.85" y1="332.45" x2="191.25" y2="332.45" stroke="#b4b4b4" stroke-width="1" />
<text x="183.25" y="335.96" font-family="'Liberation Sans', sans-serif" font-size="9" font-weight="normal" text-anchor="end" fill="#333" stroke="#333" stroke-width="0.15" textLength="4.25" lengthAdjust="spacingAndGlyphs" >4</text>
<line x1="187.85" y1="313.80" x2="191.25" y2="313.80" stroke="#b4b4b4" stroke-width="1" />
<text x="183.25" y="317.31" font-family="'Liberation Sans', sans-serif" font-size="9" font-weight="normal" text-anchor="end" fill="#333" stroke="#333" stroke-width="0.15" textLength="4.25" lengthAdjust="spacingAndGlyphs" >6</text>
<line x1="187.85" y1="295.15" x2="191.25" y2="295.15" stroke="#b4b4b4" stroke-width="1" />
<text x="183.25" y="298.66" font-family="'Liberation Sans', sans-serif" font-size="9" font-weight="normal" text-anchor="end" fill="#333" stroke="#333" stroke-width="0.15" textLength="4.25" lengthAdjust="spacingAndGlyphs" >8</text>
<line x1="187.85" y1="276.50" x2="191.25" y2="276.50" stroke="#b4b4b4" stroke-width="1" />
<text x="183.25" y="280.01" font-family="'Liberation Sans', sans-serif" font-size="9" font-weight="normal" text-anchor="end" fill="#333" stroke="#333" stroke-width="0.15" textLength="8.51" lengthAdjust="spacingAndGlyphs" >10</text>
<line x1="187.85" y1="257.85" x2="191.25" y2="257.85" stroke="#b4b4b4" stroke-width="1" />
<text x="183.25" y="261.36" font-family="'Liberation Sans', sans-serif" font-size="9" font-weight="normal" text-anchor="end" fill="#333" stroke="#333" stroke-width="0.15" textLength="8.51" lengthAdjust="spacingAndGlyphs" >12</text>
<line x1="187.85" y1="239.20" x2="191.25" y2="239.20" stroke="#b4b4b4" stroke-width="1" />
<text x="183.25" y="242.71" font-family="'Liberation Sans', sans-serif" font-size="9" font-weight="normal" text-anchor="end" fill="#333" stroke="#333" stroke-width="0.15" textLength="8.51" lengthAdjust="spacingAndGlyphs" >14</text>
<line x1="187.85" y1="220.55" x2="191.25" y2="220.55" stroke="#b4b4b4" stroke-width="1" />
<text x="183.25" y="224.06" font-family="'Liberation Sans', sans-serif" font-size="9" font-weight="normal" text-anchor="end" fill="#333" stroke="#333" stroke-width="0.15" textLength="8.51" lengthAdjust="spacingAndGlyphs" >16</text>
<line x1="187.85" y1="369.75" x2="320.75" y2="369.75" stroke="#b4b4b4" stroke-width="1" />
<line x1="256.00" y1="369.75" x2="256.00" y2="372.95" stroke="#b4b4b4" stroke-width="1" />
<line x1="320.75" y1="369.75" x2="320.75" y2="372.95" stroke="#b4b4b4" stroke-width="1" />
<rect x="210.75" y="254.50" width="25.75" height="115.25" fill="#070707" />
<line x1="223.62" y1="244.50" x2="223.62" y2="254.50" stroke="#4a4a4a" stroke-width="0.85" />
<line x1="221.62" y1="244.50" x2="225.62" y2="244.50" stroke="#4a4a4a" stroke-width="1" />
<line x1="223.62" y1="254.50" x2="223.62" y2="264.50" stroke="#161616" stroke-width="1" />
<rect x="275.50" y="360.50" width="25.75" height="9.25" fill="#070707" />
<line x1="288.38" y1="358.75" x2="288.38" y2="360.50" stroke="#4a4a4a" stroke-width="0.85" />
<line x1="286.38" y1="358.75" x2="290.38" y2="358.75" stroke="#4a4a4a" stroke-width="1" />
<line x1="288.38" y1="360.50" x2="288.38" y2="362.25" stroke="#161616" stroke-width="1" />
<text x="192.00" y="381.25" font-family="'Liberation Serif', serif" font-size="8" font-weight="bold" text-anchor="start" fill="#111" stroke="#111" stroke-width="0.18" textLength="63.00" lengthAdjust="spacingAndGlyphs" >pcDNA3.1-MYOD</text>
<text x="258.25" y="381.25" font-family="'Liberation Serif', serif" font-size="8" font-weight="bold" text-anchor="start" fill="#111" stroke="#111" stroke-width="0.18" textLength="58.75" lengthAdjust="spacingAndGlyphs" >pcDNA3.1-EGFP</text>
<text transform="translate(167.90,294.40) rotate(-90)" x="0" y="1.99" font-family="'Liberation Serif', serif" font-size="8.64" font-weight="bold" text-anchor="middle" fill="#111" stroke="#111" stroke-width="0.15" textLength="131.00" lengthAdjust="spacing">Relative MYOD mRNA expression</text>
<text x="225.00" y="238.66" font-family="'Liberation Serif', serif" font-size="11.5" font-weight="bold" text-anchor="middle" fill="#111" stroke="#111" stroke-width="0.18" >**</text>
<text x="323.50" y="216.50" font-family="'Liberation Serif', serif" font-size="16" font-weight="bold" text-anchor="start" fill="#111" stroke="#111" stroke-width="0.18" >F.</text>
<line x1="363.00" y1="225.78" x2="363.00" y2="375.20" stroke="#b4b4b4" stroke-width="1" />
<line x1="359.60" y1="372.00" x2="363.00" y2="372.00" stroke="#b4b4b4" stroke-width="1" />
<text x="355.00" y="375.51" font-family="'Liberation Sans', sans-serif" font-size="9" font-weight="normal" text-anchor="end" fill="#333" stroke="#333" stroke-width="0.15" textLength="4.25" lengthAdjust="spacingAndGlyphs" >0</text>
<line x1="359.60" y1="347.63" x2="363.00" y2="347.63" stroke="#b4b4b4" stroke-width="1" />
<text x="355.00" y="351.14" font-family="'Liberation Sans', sans-serif" font-size="9" font-weight="normal" text-anchor="end" fill="#333" stroke="#333" stroke-width="0.15" textLength="10.63" lengthAdjust="spacingAndGlyphs" >0.2</text>
<line x1="359.60" y1="323.26" x2="363.00" y2="323.26" stroke="#b4b4b4" stroke-width="1" />
<text x="355.00" y="326.77" font-family="'Liberation Sans', sans-serif" font-size="9" font-weight="normal" text-anchor="end" fill="#333" stroke="#333" stroke-width="0.15" textLength="10.63" lengthAdjust="spacingAndGlyphs" >0.4</text>
<line x1="359.60" y1="298.89" x2="363.00" y2="298.89" stroke="#b4b4b4" stroke-width="1" />
<text x="355.00" y="302.40" font-family="'Liberation Sans', sans-serif" font-size="9" font-weight="normal" text-anchor="end" fill="#333" stroke="#333" stroke-width="0.15" textLength="10.63" lengthAdjust="spacingAndGlyphs" >0.6</text>
<line x1="359.60" y1="274.52" x2="363.00" y2="274.52" stroke="#b4b4b4" stroke-width="1" />
<text x="355.00" y="278.03" font-family="'Liberation Sans', sans-serif" font-size="9" font-weight="normal" text-anchor="end" fill="#333" stroke="#333" stroke-width="0.15" textLength="10.63" lengthAdjust="spacingAndGlyphs" >0.8</text>
<line x1="359.60" y1="250.15" x2="363.00" y2="250.15" stroke="#b4b4b4" stroke-width="1" />
<text x="355.00" y="253.66" font-family="'Liberation Sans', sans-serif" font-size="9" font-weight="normal" text-anchor="end" fill="#333" stroke="#333" stroke-width="0.15" textLength="4.25" lengthAdjust="spacingAndGlyphs" >1</text>
<line x1="359.60" y1="225.78" x2="363.00" y2="225.78" stroke="#b4b4b4" stroke-width="1" />
<text x="355.00" y="229.29" font-family="'Liberation Sans', sans-serif" font-size="9" font-weight="normal" text-anchor="end" fill="#333" stroke="#333" stroke-width="0.15" textLength="10.63" lengthAdjust="spacingAndGlyphs" >1.2</text>
<line x1="359.60" y1="372.00" x2="444.00" y2="372.00" stroke="#b4b4b4" stroke-width="1" />
<line x1="403.50" y1="372.00" x2="403.50" y2="375.20" stroke="#b4b4b4" stroke-width="1" />
<line x1="444.00" y1="372.00" x2="444.00" y2="375.20" stroke="#b4b4b4" stroke-width="1" />
<rect x="375.60" y="332.75" width="16.00" height="39.25" fill="#070707" />
<line x1="383.60" y1="327.00" x2="383.60" y2="332.75" stroke="#4a4a4a" stroke-width="0.85" />
<line x1="381.60" y1="327.00" x2="385.60" y2="327.00" stroke="#4a4a4a" stroke-width="1" />
<line x1="383.60" y1="332.75" x2="383.60" y2="338.50" stroke="#161616" stroke-width="1" />
<rect x="416.25" y="250.50" width="15.75" height="121.50" fill="#070707" />
<line x1="424.12" y1="245.75" x2="424.12" y2="250.50" stroke="#4a4a4a" stroke-width="0.85" />
<line x1="422.12" y1="245.75" x2="426.12" y2="245.75" stroke="#4a4a4a" stroke-width="1" />
<line x1="424.12" y1="250.50" x2="424.12" y2="255.25" stroke="#161616" stroke-width="1" />
<text x="383.50" y="385.75" font-family="'Liberation Serif', serif" font-size="9.4" font-weight="bold" text-anchor="middle" fill="#111" stroke="#111" stroke-width="0.18" textLength="38.00" lengthAdjust="spacingAndGlyphs" >si-MYOG</text>
<text x="424.25" y="385.75" font-family="'Liberation Serif', serif" font-size="9.4" font-weight="bold" text-anchor="middle" fill="#111" stroke="#111" stroke-width="0.18" textLength="22.50" lengthAdjust="spacingAndGlyphs" >si-NC</text>
<text transform="translate(337.65,298.75) rotate(-90)" x="0" y="1.99" font-family="'Liberation Serif', serif" font-size="8.64" font-weight="bold" text-anchor="middle" fill="#111" stroke="#111" stroke-width="0.15" textLength="132.50" lengthAdjust="spacing">Relative MYOG mRNA expression</text>
<text x="383.75" y="326.65" font-family="'Liberation Serif', serif" font-size="11.5" font-weight="bold" text-anchor="middle" fill="#111" stroke="#111" stroke-width="0.18" >*</text>
<line x1="477.50" y1="220.75" x2="477.50" y2="372.95" stroke="#b4b4b4" stroke-width="1" />
<line x1="474.10" y1="369.75" x2="477.50" y2="369.75" stroke="#b4b4b4" stroke-width="1" />
<text x="469.50" y="373.26" font-family="'Liberation Sans', sans-serif" font-size="9" font-weight="normal" text-anchor="end" fill="#333" stroke="#333" stroke-width="0.15" textLength="4.25" lengthAdjust="spacingAndGlyphs" >0</text>
<line x1="474.10" y1="339.95" x2="477.50" y2="339.95" stroke="#b4b4b4" stroke-width="1" />
<text x="469.50" y="343.46" font-family="'Liberation Sans', sans-serif" font-size="9" font-weight="normal" text-anchor="end" fill="#333" stroke="#333" stroke-width="0.15" textLength="4.25" lengthAdjust="spacingAndGlyphs" >5</text>
<line x1="474.10" y1="310.15" x2="477.50" y2="310.15" stroke="#b4b4b4" stroke-width="1" />
<text x="469.50" y="313.66" font-family="'Liberation Sans', sans-serif" font-size="9" font-weight="normal" text-anchor="end" fill="#333" stroke="#333" stroke-width="0.15" textLength="8.51" lengthAdjust="spacingAndGlyphs" >10</text>
<line x1="474.10" y1="280.35" x2="477.50" y2="280.35" stroke="#b4b4b4" stroke-width="1" />
<text x="469.50" y="283.86" font-family="'Liberation Sans', sans-serif" font-size="9" font-weight="normal" text-anchor="end" fill="#333" stroke="#333" stroke-width="0.15" textLength="8.51" lengthAdjust="spacingAndGlyphs" >15</text>
<line x1="474.10" y1="250.55" x2="477.50" y2="250.55" stroke="#b4b4b4" stroke-width="1" />
<text x="469.50" y="254.06" font-family="'Liberation Sans', sans-serif" font-size="9" font-weight="normal" text-anchor="end" fill="#333" stroke="#333" stroke-width="0.15" textLength="8.51" lengthAdjust="spacingAndGlyphs" >20</text>
<line x1="474.10" y1="220.75" x2="477.50" y2="220.75" stroke="#b4b4b4" stroke-width="1" />
<text x="469.50" y="224.26" font-family="'Liberation Sans', sans-serif" font-size="9" font-weight="normal" text-anchor="end" fill="#333" stroke="#333" stroke-width="0.15" textLength="8.51" lengthAdjust="spacingAndGlyphs" >25</text>
<line x1="474.10" y1="369.75" x2="617.50" y2="369.75" stroke="#b4b4b4" stroke-width="1" />
<line x1="547.50" y1="369.75" x2="547.50" y2="372.95" stroke="#b4b4b4" stroke-width="1" />
<line x1="617.50" y1="369.75" x2="617.50" y2="372.95" stroke="#b4b4b4" stroke-width="1" />
<rect x="498.75" y="256.00" width="28.25" height="113.75" fill="#070707" />
<line x1="512.88" y1="250.00" x2="512.88" y2="256.00" stroke="#4a4a4a" stroke-width="0.85" />
<line x1="510.88" y1="250.00" x2="514.88" y2="250.00" stroke="#4a4a4a" stroke-width="1" />
<line x1="512.88" y1="256.00" x2="512.88" y2="262.00" stroke="#161616" stroke-width="1" />
<rect x="568.75" y="362.25" width="28.00" height="7.50" fill="#070707" />
<line x1="582.75" y1="359.50" x2="582.75" y2="362.25" stroke="#4a4a4a" stroke-width="0.85" />
<line x1="580.75" y1="359.50" x2="584.75" y2="359.50" stroke="#4a4a4a" stroke-width="1" />
<line x1="582.75" y1="362.25" x2="582.75" y2="365.00" stroke="#161616" stroke-width="1" />
<text x="480.75" y="381.75" font-family="'Liberation Serif', serif" font-size="8" font-weight="bold" text-anchor="start" fill="#111" stroke="#111" stroke-width="0.18" textLength="63.75" lengthAdjust="spacingAndGlyphs" >pcDNA3.1-MYOG</text>
<text x="553.00" y="381.75" font-family="'Liberation Serif', serif" font-size="8" font-weight="bold" text-anchor="start" fill="#111" stroke="#111" stroke-width="0.18" textLength="59.50" lengthAdjust="spacingAndGlyphs" >pcDNA3.1-EGFP</text>
<text transform="translate(453.90,294.00) rotate(-90)" x="0" y="1.99" font-family="'Liberation Serif', serif" font-size="8.64" font-weight="bold" text-anchor="middle" fill="#111" stroke="#111" stroke-width="0.15" textLength="132.00" lengthAdjust="spacing">Relative MYOG mRNA expression</text>
<text x="512.00" y="243.66" font-family="'Liberation Serif', serif" font-size="11.5" font-weight="bold" text-anchor="middle" fill="#111" stroke="#111" stroke-width="0.18" >**</text>
<text x="617.00" y="216.50" font-family="'Liberation Serif', serif" font-size="16" font-weight="bold" text-anchor="start" fill="#111" stroke="#111" stroke-width="0.18" >G.</text>
<line x1="671.50" y1="201.75" x2="671.50" y2="369.45" stroke="#b4b4b4" stroke-width="1" />
<line x1="668.10" y1="366.25" x2="671.50" y2="366.25" stroke="#b4b4b4" stroke-width="1" />
<text x="663.50" y="369.76" font-family="'Liberation Sans', sans-serif" font-size="9" font-weight="normal" text-anchor="end" fill="#333" stroke="#333" stroke-width="0.15" textLength="4.25" lengthAdjust="spacingAndGlyphs" >0</text>
<line x1="668.10" y1="342.75" x2="671.50" y2="342.75" stroke="#b4b4b4" stroke-width="1" />
<text x="663.50" y="346.26" font-family="'Liberation Sans', sans-serif" font-size="9" font-weight="normal" text-anchor="end" fill="#333" stroke="#333" stroke-width="0.15" textLength="10.63" lengthAdjust="spacingAndGlyphs" >0.2</text>
<line x1="668.10" y1="319.25" x2="671.50" y2="319.25" stroke="#b4b4b4" stroke-width="1" />
<text x="663.50" y="322.76" font-family="'Liberation Sans', sans-serif" font-size="9" font-weight="normal" text-anchor="end" fill="#333" stroke="#333" stroke-width="0.15" textLength="10.63" lengthAdjust="spacingAndGlyphs" >0.4</text>
<line x1="668.10" y1="295.75" x2="671.50" y2="295.75" stroke="#b4b4b4" stroke-width="1" />
<text x="663.50" y="299.26" font-family="'Liberation Sans', sans-serif" font-size="9" font-weight="normal" text-anchor="end" fill="#333" stroke="#333" stroke-width="0.15" textLength="10.63" lengthAdjust="spacingAndGlyphs" >0.6</text>
<line x1="668.10" y1="272.25" x2="671.50" y2="272.25" stroke="#b4b4b4" stroke-width="1" />
<text x="663.50" y="275.76" font-family="'Liberation Sans', sans-serif" font-size="9" font-weight="normal" text-anchor="end" fill="#333" stroke="#333" stroke-width="0.15" textLength="10.63" lengthAdjust="spacingAndGlyphs" >0.8</text>
<line x1="668.10" y1="248.75" x2="671.50" y2="248.75" stroke="#b4b4b4" stroke-width="1" />
<text x="663.50" y="252.26" font-family="'Liberation Sans', sans-serif" font-size="9" font-weight="normal" text-anchor="end" fill="#333" stroke="#333" stroke-width="0.15" textLength="4.25" lengthAdjust="spacingAndGlyphs" >1</text>
<line x1="668.10" y1="225.25" x2="671.50" y2="225.25" stroke="#b4b4b4" stroke-width="1" />
<text x="663.50" y="228.76" font-family="'Liberation Sans', sans-serif" font-size="9" font-weight="normal" text-anchor="end" fill="#333" stroke="#333" stroke-width="0.15" textLength="10.63" lengthAdjust="spacingAndGlyphs" >1.2</text>
<line x1="668.10" y1="201.75" x2="671.50" y2="201.75" stroke="#b4b4b4" stroke-width="1" />
<text x="663.50" y="205.26" font-family="'Liberation Sans', sans-serif" font-size="9" font-weight="normal" text-anchor="end" fill="#333" stroke="#333" stroke-width="0.15" textLength="10.63" lengthAdjust="spacingAndGlyphs" >1.4</text>
<line x1="668.10" y1="366.25" x2="792.50" y2="366.25" stroke="#b4b4b4" stroke-width="1" />
<line x1="711.83" y1="366.25" x2="711.83" y2="369.45" stroke="#b4b4b4" stroke-width="1" />
<line x1="752.17" y1="366.25" x2="752.17" y2="369.45" stroke="#b4b4b4" stroke-width="1" />
<line x1="792.50" y1="366.25" x2="792.50" y2="369.45" stroke="#b4b4b4" stroke-width="1" />
<rect x="684.25" y="291.50" width="15.75" height="74.75" fill="#070707" />
<line x1="692.12" y1="276.75" x2="692.12" y2="291.50" stroke="#4a4a4a" stroke-width="0.85" />
<line x1="690.12" y1="276.75" x2="694.12" y2="276.75" stroke="#4a4a4a" stroke-width="1" />
<line x1="692.12" y1="291.50" x2="692.12" y2="306.25" stroke="#161616" stroke-width="1" />
<rect x="724.50" y="315.75" width="15.50" height="50.50" fill="#070707" />
<line x1="732.25" y1="300.00" x2="732.25" y2="315.75" stroke="#4a4a4a" stroke-width="0.85" />
<line x1="730.25" y1="300.00" x2="734.25" y2="300.00" stroke="#4a4a4a" stroke-width="1" />
<line x1="732.25" y1="315.75" x2="732.25" y2="331.50" stroke="#161616" stroke-width="1" />
<rect x="765.00" y="247.00" width="15.75" height="119.25" fill="#070707" />
<line x1="772.88" y1="230.50" x2="772.88" y2="247.00" stroke="#4a4a4a" stroke-width="0.85" />
<line x1="770.88" y1="230.50" x2="774.88" y2="230.50" stroke="#4a4a4a" stroke-width="1" />
<line x1="772.88" y1="247.00" x2="772.88" y2="263.50" stroke="#161616" stroke-width="1" />
<text x="673.00" y="380.50" font-family="'Liberation Serif', serif" font-size="9.4" font-weight="bold" text-anchor="start" fill="#111" stroke="#111" stroke-width="0.18" textLength="37.75" lengthAdjust="spacingAndGlyphs" >si-MYOD</text>
<text x="713.00" y="380.50" font-family="'Liberation Serif', serif" font-size="9.4" font-weight="bold" text-anchor="start" fill="#111" stroke="#111" stroke-width="0.18" textLength="38.75" lengthAdjust="spacingAndGlyphs" >si-MYOG</text>
<text x="761.25" y="380.50" font-family="'Liberation Serif', serif" font-size="9.4" font-weight="bold" text-anchor="start" fill="#111" stroke="#111" stroke-width="0.18" textLength="22.50" lengthAdjust="spacingAndGlyphs" >si-NC</text>
<text transform="translate(645.90,284.00) rotate(-90)" x="0" y="1.99" font-family="'Liberation Serif', serif" font-size="8.64" font-weight="bold" text-anchor="middle" fill="#111" stroke="#111" stroke-width="0.15" textLength="145.75" lengthAdjust="spacing">Relative Myomaker mRNA expression</text>
<text x="692.50" y="276.90" font-family="'Liberation Serif', serif" font-size="11.5" font-weight="bold" text-anchor="middle" fill="#111" stroke="#111" stroke-width="0.18" >*</text>
<text x="732.75" y="299.90" font-family="'Liberation Serif', serif" font-size="11.5" font-weight="bold" text-anchor="middle" fill="#111" stroke="#111" stroke-width="0.18" >*</text>
<line x1="824.25" y1="201.30" x2="824.25" y2="373.70" stroke="#b4b4b4" stroke-width="1" />
<line x1="820.85" y1="370.50" x2="824.25" y2="370.50" stroke="#b4b4b4" stroke-width="1" />
<text x="816.25" y="374.01" font-family="'Liberation Sans', sans-serif" font-size="9" font-weight="normal" text-anchor="end" fill="#333" stroke="#333" stroke-width="0.15" textLength="4.25" lengthAdjust="spacingAndGlyphs" >0</text>
<line x1="820.85" y1="342.30" x2="824.25" y2="342.30" stroke="#b4b4b4" stroke-width="1" />
<text x="816.25" y="345.81" font-family="'Liberation Sans', sans-serif" font-size="9" font-weight="normal" text-anchor="end" fill="#333" stroke="#333" stroke-width="0.15" textLength="10.63" lengthAdjust="spacingAndGlyphs" >0.5</text>
<line x1="820.85" y1="314.10" x2="824.25" y2="314.10" stroke="#b4b4b4" stroke-width="1" />
<text x="816.25" y="317.61" font-family="'Liberation Sans', sans-serif" font-size="9" font-weight="normal" text-anchor="end" fill="#333" stroke="#333" stroke-width="0.15" textLength="4.25" lengthAdjust="spacingAndGlyphs" >1</text>
<line x1="820.85" y1="285.90" x2="824.25" y2="285.90" stroke="#b4b4b4" stroke-width="1" />
<text x="816.25" y="289.41" font-family="'Liberation Sans', sans-serif" font-size="9" font-weight="normal" text-anchor="end" fill="#333" stroke="#333" stroke-width="0.15" textLength="10.63" lengthAdjust="spacingAndGlyphs" >1.5</text>
<line x1="820.85" y1="257.70" x2="824.25" y2="257.70" stroke="#b4b4b4" stroke-width="1" />
<text x="816.25" y="261.21" font-family="'Liberation Sans', sans-serif" font-size="9" font-weight="normal" text-anchor="end" fill="#333" stroke="#333" stroke-width="0.15" textLength="4.25" lengthAdjust="spacingAndGlyphs" >2</text>
<line x1="820.85" y1="229.50" x2="824.25" y2="229.50" stroke="#b4b4b4" stroke-width="1" />
<text x="816.25" y="233.01" font-family="'Liberation Sans', sans-serif" font-size="9" font-weight="normal" text-anchor="end" fill="#333" stroke="#333" stroke-width="0.15" textLength="10.63" lengthAdjust="spacingAndGlyphs" >2.5</text>
<line x1="820.85" y1="201.30" x2="824.25" y2="201.30" stroke="#b4b4b4" stroke-width="1" />
<text x="816.25" y="204.81" font-family="'Liberation Sans', sans-serif" font-size="9" font-weight="normal" text-anchor="end" fill="#333" stroke="#333" stroke-width="0.15" textLength="4.25" lengthAdjust="spacingAndGlyphs" >3</text>
<line x1="820.85" y1="370.50" x2="1017.25" y2="370.50" stroke="#b4b4b4" stroke-width="1" />
<line x1="888.58" y1="370.50" x2="888.58" y2="373.70" stroke="#b4b4b4" stroke-width="1" />
<line x1="952.92" y1="370.50" x2="952.92" y2="373.70" stroke="#b4b4b4" stroke-width="1" />
<line x1="1017.25" y1="370.50" x2="1017.25" y2="373.70" stroke="#b4b4b4" stroke-width="1" />
<rect x="844.00" y="311.75" width="25.00" height="58.75" fill="#070707" />
<line x1="856.50" y1="300.25" x2="856.50" y2="311.75" stroke="#4a4a4a" stroke-width="0.85" />
<line x1="854.50" y1="300.25" x2="858.50" y2="300.25" stroke="#4a4a4a" stroke-width="1" />
<line x1="856.50" y1="311.75" x2="856.50" y2="323.25" stroke="#161616" stroke-width="1" />
<rect x="908.00" y="250.00" width="25.25" height="120.50" fill="#070707" />
<line x1="920.62" y1="234.50" x2="920.62" y2="250.00" stroke="#4a4a4a" stroke-width="0.85" />
<line x1="918.62" y1="234.50" x2="922.62" y2="234.50" stroke="#4a4a4a" stroke-width="1" />
<line x1="920.62" y1="250.00" x2="920.62" y2="265.50" stroke="#161616" stroke-width="1" />
<rect x="972.25" y="238.00" width="25.25" height="132.50" fill="#070707" />
<line x1="984.88" y1="221.25" x2="984.88" y2="238.00" stroke="#4a4a4a" stroke-width="0.85" />
<line x1="982.88" y1="221.25" x2="986.88" y2="221.25" stroke="#4a4a4a" stroke-width="1" />
<line x1="984.88" y1="238.00" x2="984.88" y2="254.75" stroke="#161616" stroke-width="1" />
<text x="828.00" y="382.50" font-family="'Liberation Serif', serif" font-size="8" font-weight="normal" text-anchor="start" fill="#222" stroke="#222" stroke-width="0.18" textLength="56.75" lengthAdjust="spacingAndGlyphs" >pcDNA3.1-EGFP</text>
<text x="889.75" y="382.50" font-family="'Liberation Serif', serif" font-size="8" font-weight="normal" text-anchor="start" fill="#222" stroke="#222" stroke-width="0.18" textLength="62.00" lengthAdjust="spacingAndGlyphs" >pcDNA3.1-MYOD</text>
<text x="954.25" y="382.50" font-family="'Liberation Serif', serif" font-size="8" font-weight="normal" text-anchor="start" fill="#222" stroke="#222" stroke-width="0.18" textLength="62.00" lengthAdjust="spacingAndGlyphs" >pcDNA3.1-MYOG</text>
<text transform="translate(799.15,282.00) rotate(-90)" x="0" y="2.19" font-family="'Liberation Serif', serif" font-size="9.5" font-weight="bold" text-anchor="middle" fill="#111" stroke="#111" stroke-width="0.15" textLength="161.00" lengthAdjust="spacing">Relative Myomaker mRNA expression</text>
<text x="919.75" y="228.66" font-family="'Liberation Serif', serif" font-size="11.5" font-weight="bold" text-anchor="middle" fill="#111" stroke="#111" stroke-width="0.18" >**</text>
<text x="983.50" y="220.41" font-family="'Liberation Serif', serif" font-size="11.5" font-weight="bold" text-anchor="middle" fill="#111" stroke="#111" stroke-width="0.18" >**</text>
<text x="12.00" y="403.75" font-family="'Liberation Serif', serif" font-size="16" font-weight="bold" text-anchor="start" fill="#111" stroke="#111" stroke-width="0.18" >H.</text>
<rect x="87.50" y="413.75" width="81.75" height="7.60" fill="#7f7f7f" />
<line x1="169.25" y1="417.50" x2="178.25" y2="417.50" stroke="#222" stroke-width="1" />
<line x1="178.25" y1="415.50" x2="178.25" y2="419.50" stroke="#222" stroke-width="1" />
<line x1="169.25" y1="416.00" x2="169.25" y2="419.00" stroke="#222" stroke-width="0.8" />
<text x="81.25" y="420.10" font-family="'Liberation Serif', serif" font-size="8" font-weight="bold" text-anchor="end" fill="#111" stroke="#111" stroke-width="0.18" textLength="59.50" lengthAdjust="spacingAndGlyphs" >pcDNA3.1-EGFP</text>
<rect x="87.50" y="430.75" width="88.75" height="7.60" fill="#7f7f7f" />
<line x1="176.25" y1="434.50" x2="181.00" y2="434.50" stroke="#222" stroke-width="1" />
<line x1="181.00" y1="432.50" x2="181.00" y2="436.50" stroke="#222" stroke-width="1" />
<line x1="176.25" y1="433.00" x2="176.25" y2="436.00" stroke="#222" stroke-width="0.8" />
<text x="81.25" y="437.10" font-family="'Liberation Serif', serif" font-size="8" font-weight="bold" text-anchor="end" fill="#111" stroke="#111" stroke-width="0.18" textLength="63.75" lengthAdjust="spacingAndGlyphs" >pcDNA3.1-MYOD</text>
<rect x="87.50" y="447.25" width="89.00" height="7.60" fill="#7f7f7f" />
<line x1="176.50" y1="451.00" x2="183.50" y2="451.00" stroke="#222" stroke-width="1" />
<line x1="183.50" y1="449.00" x2="183.50" y2="453.00" stroke="#222" stroke-width="1" />
<line x1="176.50" y1="449.50" x2="176.50" y2="452.50" stroke="#222" stroke-width="0.8" />
<text x="81.25" y="453.60" font-family="'Liberation Serif', serif" font-size="8" font-weight="bold" text-anchor="end" fill="#111" stroke="#111" stroke-width="0.18" textLength="63.75" lengthAdjust="spacingAndGlyphs" >pcDNA3.1-MYOG</text>
<rect x="87.50" y="464.50" width="44.25" height="7.60" fill="#bfbfbf" />
<line x1="131.75" y1="468.25" x2="132.50" y2="468.25" stroke="#222" stroke-width="1" />
<line x1="132.50" y1="466.25" x2="132.50" y2="470.25" stroke="#222" stroke-width="1" />
<line x1="131.75" y1="466.75" x2="131.75" y2="469.75" stroke="#222" stroke-width="0.8" />
<text x="81.25" y="470.85" font-family="'Liberation Serif', serif" font-size="8" font-weight="bold" text-anchor="end" fill="#111" stroke="#111" stroke-width="0.18" textLength="59.50" lengthAdjust="spacingAndGlyphs" >pcDNA3.1-EGFP</text>
<rect x="87.50" y="481.25" width="46.75" height="7.60" fill="#bfbfbf" />
<line x1="134.25" y1="485.00" x2="140.00" y2="485.00" stroke="#222" stroke-width="1" />
<line x1="140.00" y1="483.00" x2="140.00" y2="487.00" stroke="#222" stroke-width="1" />
<line x1="134.25" y1="483.50" x2="134.25" y2="486.50" stroke="#222" stroke-width="0.8" />
<text x="81.25" y="487.60" font-family="'Liberation Serif', serif" font-size="8" font-weight="bold" text-anchor="end" fill="#111" stroke="#111" stroke-width="0.18" textLength="63.75" lengthAdjust="spacingAndGlyphs" >pcDNA3.1-MYOD</text>
<rect x="87.50" y="497.75" width="50.50" height="7.60" fill="#bfbfbf" />
<line x1="138.00" y1="501.50" x2="142.50" y2="501.50" stroke="#222" stroke-width="1" />
<line x1="142.50" y1="499.50" x2="142.50" y2="503.50" stroke="#222" stroke-width="1" />
<line x1="138.00" y1="500.00" x2="138.00" y2="503.00" stroke="#222" stroke-width="0.8" />
<text x="81.25" y="504.10" font-family="'Liberation Serif', serif" font-size="8" font-weight="bold" text-anchor="end" fill="#111" stroke="#111" stroke-width="0.18" textLength="63.75" lengthAdjust="spacingAndGlyphs" >pcDNA3.1-MYOG</text>
<rect x="87.50" y="514.50" width="155.75" height="7.60" fill="#000" />
<line x1="243.25" y1="518.25" x2="250.50" y2="518.25" stroke="#222" stroke-width="1" />
<line x1="250.50" y1="516.25" x2="250.50" y2="520.25" stroke="#222" stroke-width="1" />
<line x1="243.25" y1="516.75" x2="243.25" y2="519.75" stroke="#222" stroke-width="0.8" />
<text x="81.25" y="520.85" font-family="'Liberation Serif', serif" font-size="8" font-weight="bold" text-anchor="end" fill="#111" stroke="#111" stroke-width="0.18" textLength="59.50" lengthAdjust="spacingAndGlyphs" >pcDNA3.1-EGFP</text>
<rect x="87.50" y="531.25" width="202.50" height="7.60" fill="#000" />
<line x1="290.00" y1="535.00" x2="299.50" y2="535.00" stroke="#222" stroke-width="1" />
<line x1="299.50" y1="533.00" x2="299.50" y2="537.00" stroke="#222" stroke-width="1" />
<line x1="290.00" y1="533.50" x2="290.00" y2="536.50" stroke="#222" stroke-width="0.8" />
<text x="81.25" y="537.60" font-family="'Liberation Serif', serif" font-size="8" font-weight="bold" text-anchor="end" fill="#111" stroke="#111" stroke-width="0.18" textLength="63.75" lengthAdjust="spacingAndGlyphs" >pcDNA3.1-MYOD</text>
<rect x="87.50" y="547.75" width="207.50" height="7.60" fill="#000" />
<line x1="295.00" y1="551.50" x2="300.00" y2="551.50" stroke="#222" stroke-width="1" />
<line x1="300.00" y1="549.50" x2="300.00" y2="553.50" stroke="#222" stroke-width="1" />
<line x1="295.00" y1="550.00" x2="295.00" y2="553.00" stroke="#222" stroke-width="0.8" />
<text x="81.25" y="554.10" font-family="'Liberation Serif', serif" font-size="8" font-weight="bold" text-anchor="end" fill="#111" stroke="#111" stroke-width="0.18" textLength="63.75" lengthAdjust="spacingAndGlyphs" >pcDNA3.1-MYOG</text>
<line x1="87.50" y1="409.50" x2="87.50" y2="563.50" stroke="#111" stroke-width="1.1" />
<line x1="87.50" y1="560.25" x2="335.50" y2="560.25" stroke="#111" stroke-width="1.1" />
<line x1="87.50" y1="560.25" x2="87.50" y2="563.50" stroke="#111" stroke-width="1" />
<text x="87.50" y="572.60" font-family="'Liberation Serif', serif" font-size="7.4" font-weight="bold" text-anchor="middle" fill="#111" stroke="#111" stroke-width="0.18" >0</text>
<line x1="118.44" y1="560.25" x2="118.44" y2="563.50" stroke="#111" stroke-width="1" />
<text x="118.44" y="572.60" font-family="'Liberation Serif', serif" font-size="7.4" font-weight="bold" text-anchor="middle" fill="#111" stroke="#111" stroke-width="0.18" >0.2</text>
<line x1="149.38" y1="560.25" x2="149.38" y2="563.50" stroke="#111" stroke-width="1" />
<text x="149.38" y="572.60" font-family="'Liberation Serif', serif" font-size="7.4" font-weight="bold" text-anchor="middle" fill="#111" stroke="#111" stroke-width="0.18" >0.4</text>
<line x1="180.32" y1="560.25" x2="180.32" y2="563.50" stroke="#111" stroke-width="1" />
<text x="180.32" y="572.60" font-family="'Liberation Serif', serif" font-size="7.4" font-weight="bold" text-anchor="middle" fill="#111" stroke="#111" stroke-width="0.18" >0.6</text>
<line x1="211.26" y1="560.25" x2="211.26" y2="563.50" stroke="#111" stroke-width="1" />
<text x="211.26" y="572.60" font-family="'Liberation Serif', serif" font-size="7.4" font-weight="bold" text-anchor="middle" fill="#111" stroke="#111" stroke-width="0.18" >0.8</text>
<line x1="242.20" y1="560.25" x2="242.20" y2="563.50" stroke="#111" stroke-width="1" />
<text x="242.20" y="572.60" font-family="'Liberation Serif', serif" font-size="7.4" font-weight="bold" text-anchor="middle" fill="#111" stroke="#111" stroke-width="0.18" >1</text>
<line x1="273.14" y1="560.25" x2="273.14" y2="563.50" stroke="#111" stroke-width="1" />
<text x="273.14" y="572.60" font-family="'Liberation Serif', serif" font-size="7.4" font-weight="bold" text-anchor="middle" fill="#111" stroke="#111" stroke-width="0.18" >1.2</text>
<line x1="304.08" y1="560.25" x2="304.08" y2="563.50" stroke="#111" stroke-width="1" />
<text x="304.08" y="572.60" font-family="'Liberation Serif', serif" font-size="7.4" font-weight="bold" text-anchor="middle" fill="#111" stroke="#111" stroke-width="0.18" >1.4</text>
<line x1="335.02" y1="560.25" x2="335.02" y2="563.50" stroke="#111" stroke-width="1" />
<text x="335.02" y="572.60" font-family="'Liberation Serif', serif" font-size="7.4" font-weight="bold" text-anchor="middle" fill="#111" stroke="#111" stroke-width="0.18" >1.6</text>
<text x="145.75" y="588.00" font-family="'Liberation Serif', serif" font-size="12" font-weight="normal" text-anchor="start" fill="#222" stroke="#222" stroke-width="0.18" textLength="131.75" lengthAdjust="spacingAndGlyphs" word-spacing="0.4">Relative luciferase activity</text>
<rect x="212.50" y="444.25" width="5.50" height="5.50" fill="#000" rx="0.8"/>
<text x="225.00" y="449.30" font-family="'Liberation Serif', serif" font-size="8.85" font-weight="normal" text-anchor="start" fill="#2a2a2a" stroke="#2a2a2a" stroke-width="0.18" textLength="85.00" lengthAdjust="spacingAndGlyphs" >pGL3-Myomaker 0.6kb</text>
<rect x="212.50" y="454.50" width="5.50" height="5.50" fill="#bfbfbf" rx="0.8"/>
<text x="225.00" y="459.55" font-family="'Liberation Serif', serif" font-size="8.85" font-weight="normal" text-anchor="start" fill="#2a2a2a" stroke="#2a2a2a" stroke-width="0.18" textLength="41.75" lengthAdjust="spacingAndGlyphs" >pGL3-basic</text>
<rect x="212.50" y="464.75" width="5.50" height="5.50" fill="#7f7f7f" rx="0.8"/>
<text x="225.00" y="469.80" font-family="'Liberation Serif', serif" font-size="8.85" font-weight="normal" text-anchor="start" fill="#2a2a2a" stroke="#2a2a2a" stroke-width="0.18" textLength="105.50" lengthAdjust="spacingAndGlyphs" >pGL3-Myomaker 0.6kb-mut1</text>
<path d="M253,518.75 H336.25 V552 H303" fill="none" stroke="#111" stroke-width="1.4"/>
<path d="M313,518.75 V535 H302.5" fill="none" stroke="#111" stroke-width="1.4"/>
<text x="318.25" y="530.30" font-family="'Liberation Serif', serif" font-size="8.5" font-weight="normal" text-anchor="middle" fill="#111" stroke="#111" stroke-width="0.18" >*</text>
<text x="340.00" y="538.50" font-family="'Liberation Serif', serif" font-size="8.5" font-weight="normal" text-anchor="middle" fill="#111" stroke="#111" stroke-width="0.18" >*</text>
<text x="348.25" y="403.25" font-family="'Liberation Serif', serif" font-size="16" font-weight="bold" text-anchor="start" fill="#111" stroke="#111" stroke-width="0.18" >I.</text>
<rect x="392.00" y="419.50" width="165.50" height="11.25" fill="#f2f2f2" stroke="#777" stroke-width="0.7"/>
<line x1="557.50" y1="425.12" x2="567.00" y2="425.12" stroke="#888" stroke-width="1" />
<line x1="567.00" y1="423.12" x2="567.00" y2="427.12" stroke="#888" stroke-width="1" />
<rect x="392.00" y="430.75" width="163.50" height="11.25" fill="#bfbfbf" stroke="#777" stroke-width="0.7"/>
<line x1="555.50" y1="436.38" x2="571.25" y2="436.38" stroke="#888" stroke-width="1" />
<line x1="571.25" y1="434.38" x2="571.25" y2="438.38" stroke="#888" stroke-width="1" />
<rect x="392.00" y="442.00" width="152.25" height="11.50" fill="#000" />
<line x1="544.25" y1="447.75" x2="549.00" y2="447.75" stroke="#888" stroke-width="1" />
<line x1="549.00" y1="445.75" x2="549.00" y2="449.75" stroke="#888" stroke-width="1" />
<rect x="392.00" y="479.25" width="165.50" height="11.75" fill="#f2f2f2" stroke="#777" stroke-width="0.7"/>
<line x1="557.50" y1="485.12" x2="567.00" y2="485.12" stroke="#888" stroke-width="1" />
<line x1="567.00" y1="483.12" x2="567.00" y2="487.12" stroke="#888" stroke-width="1" />
<rect x="392.00" y="491.00" width="169.50" height="11.50" fill="#bfbfbf" stroke="#777" stroke-width="0.7"/>
<line x1="561.50" y1="496.75" x2="576.25" y2="496.75" stroke="#888" stroke-width="1" />
<line x1="576.25" y1="494.75" x2="576.25" y2="498.75" stroke="#888" stroke-width="1" />
<rect x="392.00" y="502.50" width="156.75" height="11.75" fill="#000" />
<line x1="548.75" y1="508.38" x2="557.00" y2="508.38" stroke="#888" stroke-width="1" />
<line x1="557.00" y1="506.38" x2="557.00" y2="510.38" stroke="#888" stroke-width="1" />
<line x1="392.00" y1="406.25" x2="392.00" y2="526.50" stroke="#bdbdbd" stroke-width="1" />
<line x1="391.50" y1="526.60" x2="643.00" y2="526.60" stroke="#484848" stroke-width="1.6" />
<line x1="392.00" y1="526.50" x2="392.00" y2="529.00" stroke="#555" stroke-width="1" />
<text x="392.00" y="539.50" font-family="'Liberation Sans', sans-serif" font-size="7.9" font-weight="bold" text-anchor="middle" fill="#222" >0</text>
<line x1="423.30" y1="526.50" x2="423.30" y2="529.00" stroke="#555" stroke-width="1" />
<text x="423.30" y="539.50" font-family="'Liberation Sans', sans-serif" font-size="7.9" font-weight="bold" text-anchor="middle" fill="#222" >0.2</text>
<line x1="454.60" y1="526.50" x2="454.60" y2="529.00" stroke="#555" stroke-width="1" />
<text x="454.60" y="539.50" font-family="'Liberation Sans', sans-serif" font-size="7.9" font-weight="bold" text-anchor="middle" fill="#222" >0.4</text>
<line x1="485.90" y1="526.50" x2="485.90" y2="529.00" stroke="#555" stroke-width="1" />
<text x="485.90" y="539.50" font-family="'Liberation Sans', sans-serif" font-size="7.9" font-weight="bold" text-anchor="middle" fill="#222" >0.6</text>
<line x1="517.20" y1="526.50" x2="517.20" y2="529.00" stroke="#555" stroke-width="1" />
<text x="517.20" y="539.50" font-family="'Liberation Sans', sans-serif" font-size="7.9" font-weight="bold" text-anchor="middle" fill="#222" >0.8</text>
<line x1="548.50" y1="526.50" x2="548.50" y2="529.00" stroke="#555" stroke-width="1" />
<text x="548.50" y="539.50" font-family="'Liberation Sans', sans-serif" font-size="7.9" font-weight="bold" text-anchor="middle" fill="#222" >1</text>
<line x1="579.80" y1="526.50" x2="579.80" y2="529.00" stroke="#555" stroke-width="1" />
<text x="579.80" y="539.50" font-family="'Liberation Sans', sans-serif" font-size="7.9" font-weight="bold" text-anchor="middle" fill="#222" >1.2</text>
<line x1="611.10" y1="526.50" x2="611.10" y2="529.00" stroke="#555" stroke-width="1" />
<text x="611.10" y="539.50" font-family="'Liberation Sans', sans-serif" font-size="7.9" font-weight="bold" text-anchor="middle" fill="#222" >1.4</text>
<line x1="642.40" y1="526.50" x2="642.40" y2="529.00" stroke="#555" stroke-width="1" />
<text x="642.40" y="539.50" font-family="'Liberation Sans', sans-serif" font-size="7.9" font-weight="bold" text-anchor="middle" fill="#222" >1.6</text>
<text x="451.25" y="555.50" font-family="'Liberation Serif', serif" font-size="12" font-weight="normal" text-anchor="start" fill="#222" stroke="#222" stroke-width="0.18" textLength="131.25" lengthAdjust="spacingAndGlyphs" word-spacing="0.4">Relative luciferase activity</text>
<text x="365.50" y="434.50" font-family="'Liberation Serif', serif" font-size="8" font-weight="bold" text-anchor="middle" fill="#111" stroke="#111" stroke-width="0.18" >pcDNA3.1-</text>
<text x="365.50" y="443.75" font-family="'Liberation Serif', serif" font-size="8" font-weight="bold" text-anchor="middle" fill="#111" stroke="#111" stroke-width="0.18" >MYOG</text>
<text x="365.50" y="494.50" font-family="'Liberation Serif', serif" font-size="8" font-weight="bold" text-anchor="middle" fill="#111" stroke="#111" stroke-width="0.18" >pcDNA3.1-</text>
<text x="365.50" y="503.75" font-family="'Liberation Serif', serif" font-size="8" font-weight="bold" text-anchor="middle" fill="#111" stroke="#111" stroke-width="0.18" >MYOD</text>
<rect x="568.75" y="450.40" width="4.20" height="4.20" fill="#fff" stroke="#666" stroke-width="0.6"/>
<text x="573.75" y="454.50" font-family="'Liberation Serif', serif" font-size="8.1" font-weight="normal" text-anchor="start" fill="#3a3a3a" stroke="#3a3a3a" stroke-width="0.18" textLength="71.25" lengthAdjust="spacingAndGlyphs" >pGL3-Myomaker 2kb</text>
<rect x="568.75" y="462.40" width="4.20" height="4.20" fill="#bfbfbf" stroke="#666" stroke-width="0.6"/>
<text x="573.75" y="466.75" font-family="'Liberation Serif', serif" font-size="8.1" font-weight="normal" text-anchor="start" fill="#3a3a3a" stroke="#3a3a3a" stroke-width="0.18" textLength="77.50" lengthAdjust="spacingAndGlyphs" >pGL3-Myomaker 1.3kb</text>
<rect x="568.75" y="474.90" width="4.20" height="4.20" fill="#000" stroke="#666" stroke-width="0.6"/>
<text x="573.75" y="479.25" font-family="'Liberation Serif', serif" font-size="8.1" font-weight="normal" text-anchor="start" fill="#3a3a3a" stroke="#3a3a3a" stroke-width="0.18" textLength="77.50" lengthAdjust="spacingAndGlyphs" >pGL3-Myomaker 0.6kb</text>
<text x="656.40" y="403.75" font-family="'Liberation Serif', serif" font-size="16" font-weight="bold" text-anchor="start" fill="#111" stroke="#111" stroke-width="0.18" >J.</text>
<g transform="translate(0,0.5)">
<line x1="663.50" y1="446.30" x2="971.00" y2="446.30" stroke="#111" stroke-width="1.2" />
<line x1="669.30" y1="443.30" x2="669.30" y2="446.30" stroke="#111" stroke-width="1" />
<text x="670.00" y="440.80" font-family="'Liberation Sans', sans-serif" font-size="4.8" font-weight="bold" text-anchor="middle" fill="#111" >-2k</text>
<line x1="708.80" y1="443.30" x2="708.80" y2="446.30" stroke="#111" stroke-width="1" />
<text x="710.00" y="440.80" font-family="'Liberation Sans', sans-serif" font-size="4.8" font-weight="bold" text-anchor="middle" fill="#111" >-1.3k</text>
<line x1="750.50" y1="443.30" x2="750.50" y2="446.30" stroke="#111" stroke-width="1" />
<text x="752.00" y="440.80" font-family="'Liberation Sans', sans-serif" font-size="4.8" font-weight="bold" text-anchor="middle" fill="#111" >-0.6k</text>
<text x="790.70" y="440.80" font-family="'Liberation Sans', sans-serif" font-size="4.8" font-weight="bold" text-anchor="middle" fill="#111" >+1</text>
<text x="810.00" y="440.80" font-family="'Liberation Sans', sans-serif" font-size="4.8" font-weight="bold" text-anchor="middle" fill="#111" >+62</text>
<ellipse cx="680.5" cy="446.3" rx="1.1" ry="2.9" fill="#f01818"/>
<ellipse cx="684.9" cy="446.3" rx="1.1" ry="2.9" fill="#f01818"/>
<ellipse cx="688.8" cy="446.3" rx="1.1" ry="2.9" fill="#f01818"/>
<ellipse cx="694" cy="446.3" rx="1.1" ry="2.9" fill="#f01818"/>
<ellipse cx="700.2" cy="446.3" rx="1.1" ry="2.9" fill="#f01818"/>
<ellipse cx="705.7" cy="446.3" rx="1.1" ry="2.9" fill="#f01818"/>
<ellipse cx="736.5" cy="446.3" rx="1.1" ry="2.9" fill="#f01818"/>
<ellipse cx="742.4" cy="446.3" rx="1.1" ry="2.9" fill="#f01818"/>
<ellipse cx="781" cy="446.3" rx="1.1" ry="2.9" fill="#f01818"/>
<ellipse cx="785.7" cy="446.3" rx="1.1" ry="2.9" fill="#f01818"/>
<rect x="790.70" y="444.20" width="18.20" height="4.40" fill="#ee1212" />
<text x="799.70" y="447.50" font-family="'Liberation Sans', sans-serif" font-size="2.8" font-weight="bold" text-anchor="middle" fill="#5a0c0c" >5' UTR</text>
<rect x="941.50" y="444.20" width="25.75" height="4.40" fill="#ee1212" />
<text x="954.50" y="447.50" font-family="'Liberation Sans', sans-serif" font-size="2.8" font-weight="bold" text-anchor="middle" fill="#5a0c0c" >3' UTR</text>
<rect x="808.75" y="441.80" width="20.25" height="9.40" fill="#20a9ee" rx="1.6" stroke="#123a55" stroke-width="0.9"/>
<text x="818.88" y="449.10" font-family="'Liberation Sans', sans-serif" font-size="7.2" font-weight="bold" text-anchor="middle" fill="#0d1b26" >E1</text>
<rect x="842.25" y="441.80" width="16.25" height="9.40" fill="#20a9ee" rx="1.6" stroke="#123a55" stroke-width="0.9"/>
<text x="850.38" y="449.10" font-family="'Liberation Sans', sans-serif" font-size="7.2" font-weight="bold" text-anchor="middle" fill="#0d1b26" >E2</text>
<rect x="872.50" y="441.80" width="16.25" height="9.40" fill="#20a9ee" rx="1.6" stroke="#123a55" stroke-width="0.9"/>
<text x="880.62" y="449.10" font-family="'Liberation Sans', sans-serif" font-size="7.2" font-weight="bold" text-anchor="middle" fill="#0d1b26" >E3</text>
<rect x="897.50" y="441.80" width="16.75" height="9.40" fill="#20a9ee" rx="1.6" stroke="#123a55" stroke-width="0.9"/>
<text x="905.88" y="449.10" font-family="'Liberation Sans', sans-serif" font-size="7.2" font-weight="bold" text-anchor="middle" fill="#0d1b26" >E4</text>
<rect x="923.00" y="441.80" width="18.75" height="9.40" fill="#20a9ee" rx="1.6" stroke="#123a55" stroke-width="0.9"/>
<text x="932.38" y="449.10" font-family="'Liberation Sans', sans-serif" font-size="7.2" font-weight="bold" text-anchor="middle" fill="#0d1b26" >E5</text>
<line x1="775.00" y1="450.60" x2="789.50" y2="450.60" stroke="#111" stroke-width="1.5" />
<path d="M780.2,460.9 L781.4,454.5" fill="none" stroke="#111" stroke-width="1.25"/>
<path d="M779.5,456.2 L781.9,452.4 L783.4,456.8 Z" fill="#111"/>
</g>
<text x="775.00" y="468.70" font-family="'Liberation Serif', serif" font-size="8" font-weight="bold" text-anchor="start" fill="#111" stroke="#111" stroke-width="0.18" textLength="131.00" lengthAdjust="spacingAndGlyphs" >R1 (ChIP-qPCR amplification region)</text>
<ellipse cx="852" cy="398" rx="1.6" ry="4" fill="#f01818"/>
<text x="861.00" y="401.70" font-family="'Liberation Serif', serif" font-size="7.9" font-weight="bold" text-anchor="start" fill="#111" stroke="#111" stroke-width="0.18" textLength="61.50" lengthAdjust="spacingAndGlyphs" >E-box (CAGCTG)</text>
<rect x="848.00" y="408.75" width="8.75" height="10.75" fill="#20a9ee" rx="1.5" stroke="#123a55" stroke-width="0.9"/>
<text x="861" y="417.5" font-family="'Liberation Serif', serif" font-size="8" font-weight="bold" fill="#111" textLength="51.5" lengthAdjust="spacingAndGlyphs"><tspan font-style="italic">Myomaker</tspan> exon</text>
<rect x="848.00" y="425.50" width="8.75" height="7.00" fill="#ee1212" />
<text x="861" y="433" font-family="'Liberation Serif', serif" font-size="8" font-weight="bold" fill="#111" textLength="52.5" lengthAdjust="spacingAndGlyphs"><tspan font-style="italic">Myomaker</tspan> UTR</text>
<text x="657.50" y="502.50" font-family="'Liberation Serif', serif" font-size="16" font-weight="bold" text-anchor="start" fill="#111" stroke="#111" stroke-width="0.18" >K.</text>
<line x1="716.25" y1="510.20" x2="716.25" y2="649.50" stroke="#8a8a8a" stroke-width="1" />
<line x1="713.25" y1="649.50" x2="716.25" y2="649.50" stroke="#8a8a8a" stroke-width="1" />
<text x="710.90" y="652.30" font-family="'Liberation Sans', sans-serif" font-size="8.3" font-weight="normal" text-anchor="end" fill="#555" textLength="4.29" lengthAdjust="spacingAndGlyphs" >0</text>
<line x1="713.25" y1="629.60" x2="716.25" y2="629.60" stroke="#8a8a8a" stroke-width="1" />
<text x="710.90" y="632.40" font-family="'Liberation Sans', sans-serif" font-size="8.3" font-weight="normal" text-anchor="end" fill="#555" textLength="10.73" lengthAdjust="spacingAndGlyphs" >0.1</text>
<line x1="713.25" y1="609.70" x2="716.25" y2="609.70" stroke="#8a8a8a" stroke-width="1" />
<text x="710.90" y="612.50" font-family="'Liberation Sans', sans-serif" font-size="8.3" font-weight="normal" text-anchor="end" fill="#555" textLength="10.73" lengthAdjust="spacingAndGlyphs" >0.2</text>
<line x1="713.25" y1="589.80" x2="716.25" y2="589.80" stroke="#8a8a8a" stroke-width="1" />
<text x="710.90" y="592.60" font-family="'Liberation Sans', sans-serif" font-size="8.3" font-weight="normal" text-anchor="end" fill="#555" textLength="10.73" lengthAdjust="spacingAndGlyphs" >0.3</text>
<line x1="713.25" y1="569.90" x2="716.25" y2="569.90" stroke="#8a8a8a" stroke-width="1" />
<text x="710.90" y="572.70" font-family="'Liberation Sans', sans-serif" font-size="8.3" font-weight="normal" text-anchor="end" fill="#555" textLength="10.73" lengthAdjust="spacingAndGlyphs" >0.4</text>
<line x1="713.25" y1="550.00" x2="716.25" y2="550.00" stroke="#8a8a8a" stroke-width="1" />
<text x="710.90" y="552.80" font-family="'Liberation Sans', sans-serif" font-size="8.3" font-weight="normal" text-anchor="end" fill="#555" textLength="10.73" lengthAdjust="spacingAndGlyphs" >0.5</text>
<line x1="713.25" y1="530.10" x2="716.25" y2="530.10" stroke="#8a8a8a" stroke-width="1" />
<text x="710.90" y="532.90" font-family="'Liberation Sans', sans-serif" font-size="8.3" font-weight="normal" text-anchor="end" fill="#555" textLength="10.73" lengthAdjust="spacingAndGlyphs" >0.6</text>
<line x1="713.25" y1="510.20" x2="716.25" y2="510.20" stroke="#8a8a8a" stroke-width="1" />
<text x="710.90" y="513.00" font-family="'Liberation Sans', sans-serif" font-size="8.3" font-weight="normal" text-anchor="end" fill="#555" textLength="10.73" lengthAdjust="spacingAndGlyphs" >0.7</text>
<line x1="713.25" y1="649.50" x2="949.25" y2="649.50" stroke="#8a8a8a" stroke-width="1" />
<rect x="722.21" y="582.50" width="7.50" height="67.00" fill="#000" rx="0.8"/>
<line x1="725.96" y1="573.00" x2="725.96" y2="582.50" stroke="#bbb" stroke-width="1" />
<line x1="724.46" y1="573.00" x2="727.46" y2="573.00" stroke="#bbb" stroke-width="1" />
<text x="725.96" y="662.50" font-family="'Liberation Serif', serif" font-size="8" font-weight="normal" text-anchor="middle" fill="#222" stroke="#222" stroke-width="0.18" >R1</text>
<rect x="741.62" y="647.50" width="7.50" height="2.00" fill="#000" rx="0.8"/>
<text x="745.38" y="662.50" font-family="'Liberation Serif', serif" font-size="8" font-weight="normal" text-anchor="middle" fill="#222" stroke="#222" stroke-width="0.18" >NC</text>
<rect x="761.04" y="556.25" width="7.50" height="93.25" fill="#000" rx="0.8"/>
<line x1="764.79" y1="549.50" x2="764.79" y2="556.25" stroke="#bbb" stroke-width="1" />
<line x1="763.29" y1="549.50" x2="766.29" y2="549.50" stroke="#bbb" stroke-width="1" />
<text x="764.79" y="662.50" font-family="'Liberation Serif', serif" font-size="8" font-weight="normal" text-anchor="middle" fill="#222" stroke="#222" stroke-width="0.18" >R1</text>
<rect x="780.46" y="647.80" width="7.50" height="1.70" fill="#000" rx="0.8"/>
<text x="784.21" y="662.50" font-family="'Liberation Serif', serif" font-size="8" font-weight="normal" text-anchor="middle" fill="#222" stroke="#222" stroke-width="0.18" >NC</text>
<rect x="799.88" y="645.75" width="7.50" height="3.75" fill="#000" rx="0.8"/>
<text x="803.62" y="662.50" font-family="'Liberation Serif', serif" font-size="8" font-weight="normal" text-anchor="middle" fill="#222" stroke="#222" stroke-width="0.18" >R1</text>
<rect x="819.29" y="647.80" width="7.50" height="1.70" fill="#000" rx="0.8"/>
<text x="823.04" y="662.50" font-family="'Liberation Serif', serif" font-size="8" font-weight="normal" text-anchor="middle" fill="#222" stroke="#222" stroke-width="0.18" >NC</text>
<rect x="838.71" y="561.25" width="7.50" height="88.25" fill="#000" rx="0.8"/>
<line x1="842.46" y1="550.00" x2="842.46" y2="561.25" stroke="#bbb" stroke-width="1" />
<line x1="840.96" y1="550.00" x2="843.96" y2="550.00" stroke="#bbb" stroke-width="1" />
<text x="842.46" y="662.50" font-family="'Liberation Serif', serif" font-size="8" font-weight="normal" text-anchor="middle" fill="#222" stroke="#222" stroke-width="0.18" >R1</text>
<rect x="858.12" y="647.80" width="7.50" height="1.70" fill="#000" rx="0.8"/>
<text x="861.88" y="662.50" font-family="'Liberation Serif', serif" font-size="8" font-weight="normal" text-anchor="middle" fill="#222" stroke="#222" stroke-width="0.18" >NC</text>
<rect x="877.54" y="555.75" width="7.50" height="93.75" fill="#000" rx="0.8"/>
<line x1="881.29" y1="540.75" x2="881.29" y2="555.75" stroke="#bbb" stroke-width="1" />
<line x1="879.79" y1="540.75" x2="882.79" y2="540.75" stroke="#bbb" stroke-width="1" />
<text x="881.29" y="662.50" font-family="'Liberation Serif', serif" font-size="8" font-weight="normal" text-anchor="middle" fill="#222" stroke="#222" stroke-width="0.18" >R1</text>
<rect x="896.96" y="647.80" width="7.50" height="1.70" fill="#000" rx="0.8"/>
<text x="900.71" y="662.50" font-family="'Liberation Serif', serif" font-size="8" font-weight="normal" text-anchor="middle" fill="#222" stroke="#222" stroke-width="0.18" >NC</text>
<rect x="916.38" y="647.00" width="7.50" height="2.50" fill="#000" rx="0.8"/>
<text x="920.12" y="662.50" font-family="'Liberation Serif', serif" font-size="8" font-weight="normal" text-anchor="middle" fill="#222" stroke="#222" stroke-width="0.18" >R1</text>
<rect x="935.79" y="647.80" width="7.50" height="1.70" fill="#000" rx="0.8"/>
<text x="939.54" y="662.50" font-family="'Liberation Serif', serif" font-size="8" font-weight="normal" text-anchor="middle" fill="#222" stroke="#222" stroke-width="0.18" >NC</text>
<line x1="716.25" y1="649.50" x2="716.25" y2="678.00" stroke="#8a8a8a" stroke-width="1" />
<line x1="755.08" y1="649.50" x2="755.08" y2="678.00" stroke="#8a8a8a" stroke-width="1" />
<line x1="793.92" y1="649.50" x2="793.92" y2="678.00" stroke="#8a8a8a" stroke-width="1" />
<line x1="832.75" y1="649.50" x2="832.75" y2="678.00" stroke="#8a8a8a" stroke-width="1" />
<line x1="871.58" y1="649.50" x2="871.58" y2="678.00" stroke="#8a8a8a" stroke-width="1" />
<line x1="910.42" y1="649.50" x2="910.42" y2="678.00" stroke="#8a8a8a" stroke-width="1" />
<line x1="949.25" y1="649.50" x2="949.25" y2="678.00" stroke="#8a8a8a" stroke-width="1" />
<text x="735.67" y="676.75" font-family="'Liberation Serif', serif" font-size="8" font-weight="normal" text-anchor="middle" fill="#222" stroke="#222" stroke-width="0.18" >MYOG</text>
<text x="774.50" y="676.75" font-family="'Liberation Serif', serif" font-size="8" font-weight="normal" text-anchor="middle" fill="#222" stroke="#222" stroke-width="0.18" >MYOD</text>
<text x="813.33" y="676.75" font-family="'Liberation Serif', serif" font-size="8" font-weight="normal" text-anchor="middle" fill="#222" stroke="#222" stroke-width="0.18" >IgG</text>
<text x="852.17" y="676.75" font-family="'Liberation Serif', serif" font-size="8" font-weight="normal" text-anchor="middle" fill="#222" stroke="#222" stroke-width="0.18" >MYOG</text>
<text x="891.00" y="676.75" font-family="'Liberation Serif', serif" font-size="8" font-weight="normal" text-anchor="middle" fill="#222" stroke="#222" stroke-width="0.18" >MYOD</text>
<text x="929.83" y="676.75" font-family="'Liberation Serif', serif" font-size="8" font-weight="normal" text-anchor="middle" fill="#222" stroke="#222" stroke-width="0.18" >IgG</text>
<line x1="722.50" y1="682.50" x2="830.50" y2="682.50" stroke="#111" stroke-width="1.5" />
<line x1="838.50" y1="682.50" x2="946.75" y2="682.50" stroke="#111" stroke-width="1.5" />
<text x="769.25" y="699.00" font-family="'Liberation Serif', serif" font-size="12.5" font-weight="bold" text-anchor="middle" fill="#111" stroke="#111" stroke-width="0.18" >DM1</text>
<text x="890.50" y="699.25" font-family="'Liberation Serif', serif" font-size="12.5" font-weight="bold" text-anchor="middle" fill="#111" stroke="#111" stroke-width="0.18" >DM4</text>
<text transform="translate(690.90,579.50) rotate(-90)" x="0" y="2.71" font-family="'Liberation Serif', serif" font-size="11.8" font-weight="normal" text-anchor="middle" fill="#333" stroke="#333" stroke-width="0.15" textLength="126.00" lengthAdjust="spacing">Bound/input (percentage)</text>
<path d="M726.25,569.5 V496.25 H842.25 V546.25" fill="none" stroke="#111" stroke-width="1.25"/>
<path d="M726.25,517 H804.6 V645" fill="none" stroke="#111" stroke-width="1.25"/>
<path d="M765.75,547.5 V538.25 H804.6" fill="none" stroke="#111" stroke-width="1.25"/>
<path d="M842.25,510 H920.5 V640" fill="none" stroke="#111" stroke-width="1.25"/>
<path d="M881.25,539.5 V535.75 H920.5" fill="none" stroke="#111" stroke-width="1.25"/>
<text x="786.80" y="497.00" font-family="'Liberation Serif', serif" font-size="12" font-weight="normal" text-anchor="middle" fill="#111" stroke="#111" stroke-width="0.25" letter-spacing="-0.4">*</text>
<text x="760.55" y="518.75" font-family="'Liberation Serif', serif" font-size="12" font-weight="normal" text-anchor="middle" fill="#111" stroke="#111" stroke-width="0.25" letter-spacing="-0.4">**</text>
<text x="783.05" y="539.25" font-family="'Liberation Serif', serif" font-size="12" font-weight="normal" text-anchor="middle" fill="#111" stroke="#111" stroke-width="0.25" letter-spacing="-0.4">**</text>
<text x="879.55" y="512.00" font-family="'Liberation Serif', serif" font-size="12" font-weight="normal" text-anchor="middle" fill="#111" stroke="#111" stroke-width="0.25" letter-spacing="-0.4">**</text>
<text x="900.80" y="537.00" font-family="'Liberation Serif', serif" font-size="12" font-weight="normal" text-anchor="middle" fill="#111" stroke="#111" stroke-width="0.25" letter-spacing="-0.4">**</text>
</svg>
</body></html>
